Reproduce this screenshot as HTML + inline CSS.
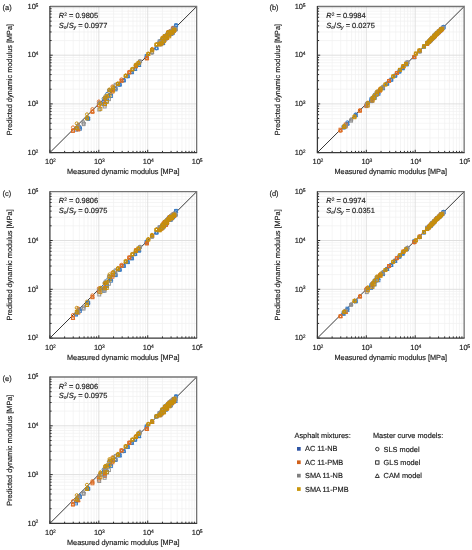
<!DOCTYPE html>
<html><head><meta charset="utf-8"><title>Figure</title><style>html,body{margin:0;padding:0;background:#fff}svg{display:block;filter:blur(0.3px)}</style></head><body>
<svg width="472" height="550" viewBox="0 0 472 550" font-family='"Liberation Sans", Arial, sans-serif' font-size="7.45" fill="#1a1a1a" stroke="#1a1a1a" stroke-width="0.16" text-rendering="geometricPrecision">
<rect width="472" height="550" fill="#fff" stroke="none"/>
<g>
<path d="M64.63 6.5V152.6M49.9 137.94H196.65M73.24 6.5V152.6M49.9 129.36H196.65M79.35 6.5V152.6M49.9 123.28H196.65M84.09 6.5V152.6M49.9 118.56H196.65M87.96 6.5V152.6M49.9 114.70H196.65M91.24 6.5V152.6M49.9 111.44H196.65M94.08 6.5V152.6M49.9 108.62H196.65M96.58 6.5V152.6M49.9 106.13H196.65M113.54 6.5V152.6M49.9 89.24H196.65M122.16 6.5V152.6M49.9 80.66H196.65M128.27 6.5V152.6M49.9 74.58H196.65M133.01 6.5V152.6M49.9 69.86H196.65M136.88 6.5V152.6M49.9 66.00H196.65M140.16 6.5V152.6M49.9 62.74H196.65M142.99 6.5V152.6M49.9 59.92H196.65M145.50 6.5V152.6M49.9 57.43H196.65M162.46 6.5V152.6M49.9 40.54H196.65M171.07 6.5V152.6M49.9 31.96H196.65M177.18 6.5V152.6M49.9 25.88H196.65M181.92 6.5V152.6M49.9 21.16H196.65M185.80 6.5V152.6M49.9 17.30H196.65M189.07 6.5V152.6M49.9 14.04H196.65M191.91 6.5V152.6M49.9 11.22H196.65M194.41 6.5V152.6M49.9 8.73H196.65" stroke="#f0f0f0" stroke-width="0.7" fill="none"/>
<path d="M98.82 6.5V152.6M49.9 103.90H196.65M147.73 6.5V152.6M49.9 55.20H196.65" stroke="#dddddd" stroke-width="0.9" fill="none"/>
<path d="M49.9 152.6L196.65 6.5" stroke="#363636" stroke-width="1.0" fill="none"/>
<g fill="none" stroke="#3B7CC4" stroke-width="0.95">
<circle cx="76.07" cy="128.12" r="1.55"/>
<circle cx="79.94" cy="127.55" r="1.55"/>
<circle cx="88.21" cy="117.78" r="1.55"/>
<circle cx="103.60" cy="98.73" r="1.55"/>
<circle cx="107.11" cy="93.87" r="1.55"/>
<circle cx="110.95" cy="90.69" r="1.55"/>
<circle cx="115.54" cy="88.04" r="1.55"/>
<circle cx="119.68" cy="84.45" r="1.55"/>
<circle cx="123.75" cy="80.24" r="1.55"/>
<circle cx="127.73" cy="76.22" r="1.55"/>
<circle cx="131.86" cy="71.64" r="1.55"/>
<circle cx="135.15" cy="68.77" r="1.55"/>
<circle cx="139.15" cy="64.81" r="1.55"/>
<circle cx="146.65" cy="56.37" r="1.55"/>
<circle cx="156.47" cy="48.31" r="1.55"/>
<circle cx="159.79" cy="41.43" r="1.55"/>
<circle cx="161.90" cy="40.08" r="1.55"/>
<circle cx="163.07" cy="43.05" r="1.55"/>
<circle cx="164.82" cy="36.42" r="1.55"/>
<circle cx="165.72" cy="38.41" r="1.55"/>
<circle cx="166.99" cy="34.86" r="1.55"/>
<circle cx="168.87" cy="33.84" r="1.55"/>
<circle cx="169.57" cy="32.83" r="1.55"/>
<circle cx="170.58" cy="33.48" r="1.55"/>
<circle cx="172.40" cy="33.32" r="1.55"/>
<circle cx="173.08" cy="31.49" r="1.55"/>
<circle cx="173.61" cy="27.95" r="1.55"/>
<circle cx="175.41" cy="28.89" r="1.55"/>
<circle cx="176.04" cy="25.20" r="1.55"/>
<rect x="74.62" y="128.17" width="2.9" height="2.9"/>
<rect x="78.49" y="127.30" width="2.9" height="2.9"/>
<rect x="86.76" y="117.46" width="2.9" height="2.9"/>
<rect x="102.15" y="102.74" width="2.9" height="2.9"/>
<rect x="105.66" y="99.33" width="2.9" height="2.9"/>
<rect x="109.50" y="94.63" width="2.9" height="2.9"/>
<rect x="114.09" y="87.97" width="2.9" height="2.9"/>
<rect x="118.23" y="83.30" width="2.9" height="2.9"/>
<rect x="122.30" y="78.90" width="2.9" height="2.9"/>
<rect x="126.28" y="74.55" width="2.9" height="2.9"/>
<rect x="130.41" y="70.77" width="2.9" height="2.9"/>
<rect x="133.70" y="67.29" width="2.9" height="2.9"/>
<rect x="137.70" y="63.57" width="2.9" height="2.9"/>
<rect x="145.20" y="54.58" width="2.9" height="2.9"/>
<rect x="155.02" y="46.80" width="2.9" height="2.9"/>
<rect x="158.34" y="40.05" width="2.9" height="2.9"/>
<rect x="160.45" y="38.93" width="2.9" height="2.9"/>
<rect x="161.62" y="41.76" width="2.9" height="2.9"/>
<rect x="163.37" y="35.00" width="2.9" height="2.9"/>
<rect x="164.27" y="36.64" width="2.9" height="2.9"/>
<rect x="165.54" y="33.66" width="2.9" height="2.9"/>
<rect x="167.42" y="32.51" width="2.9" height="2.9"/>
<rect x="168.12" y="31.36" width="2.9" height="2.9"/>
<rect x="169.13" y="32.04" width="2.9" height="2.9"/>
<rect x="170.95" y="31.45" width="2.9" height="2.9"/>
<rect x="171.63" y="30.04" width="2.9" height="2.9"/>
<rect x="172.16" y="26.39" width="2.9" height="2.9"/>
<rect x="173.96" y="27.64" width="2.9" height="2.9"/>
<rect x="174.59" y="23.93" width="2.9" height="2.9"/>
<path d="M76.07 126.27l1.8 3.2h-3.6z"/>
<path d="M79.94 125.08l1.8 3.2h-3.6z"/>
<path d="M88.21 116.10l1.8 3.2h-3.6z"/>
<path d="M103.60 100.02l1.8 3.2h-3.6z"/>
<path d="M107.11 96.46l1.8 3.2h-3.6z"/>
<path d="M110.95 91.71l1.8 3.2h-3.6z"/>
<path d="M115.54 86.62l1.8 3.2h-3.6z"/>
<path d="M119.68 82.53l1.8 3.2h-3.6z"/>
<path d="M123.75 78.63l1.8 3.2h-3.6z"/>
<path d="M127.73 74.61l1.8 3.2h-3.6z"/>
<path d="M131.86 70.43l1.8 3.2h-3.6z"/>
<path d="M135.15 67.22l1.8 3.2h-3.6z"/>
<path d="M139.15 63.08l1.8 3.2h-3.6z"/>
<path d="M146.65 54.41l1.8 3.2h-3.6z"/>
<path d="M156.47 46.14l1.8 3.2h-3.6z"/>
<path d="M159.79 39.52l1.8 3.2h-3.6z"/>
<path d="M161.90 38.22l1.8 3.2h-3.6z"/>
<path d="M163.07 41.32l1.8 3.2h-3.6z"/>
<path d="M164.82 34.56l1.8 3.2h-3.6z"/>
<path d="M165.72 36.62l1.8 3.2h-3.6z"/>
<path d="M166.99 33.58l1.8 3.2h-3.6z"/>
<path d="M168.87 31.88l1.8 3.2h-3.6z"/>
<path d="M169.57 30.71l1.8 3.2h-3.6z"/>
<path d="M170.58 32.22l1.8 3.2h-3.6z"/>
<path d="M172.40 31.55l1.8 3.2h-3.6z"/>
<path d="M173.08 29.85l1.8 3.2h-3.6z"/>
<path d="M173.61 25.97l1.8 3.2h-3.6z"/>
<path d="M175.41 27.46l1.8 3.2h-3.6z"/>
<path d="M176.04 23.73l1.8 3.2h-3.6z"/>
</g>
<g fill="none" stroke="#DD6B22" stroke-width="0.95">
<circle cx="72.95" cy="127.42" r="1.55"/>
<circle cx="78.24" cy="125.11" r="1.55"/>
<circle cx="92.44" cy="109.13" r="1.55"/>
<circle cx="98.87" cy="101.48" r="1.55"/>
<circle cx="104.83" cy="98.17" r="1.55"/>
<circle cx="112.45" cy="86.45" r="1.55"/>
<circle cx="121.51" cy="79.36" r="1.55"/>
<circle cx="129.28" cy="71.78" r="1.55"/>
<circle cx="135.92" cy="65.45" r="1.55"/>
<circle cx="146.85" cy="57.93" r="1.55"/>
<circle cx="152.23" cy="48.89" r="1.55"/>
<circle cx="159.72" cy="43.80" r="1.55"/>
<circle cx="161.19" cy="42.74" r="1.55"/>
<circle cx="162.19" cy="41.97" r="1.55"/>
<circle cx="163.61" cy="37.36" r="1.55"/>
<circle cx="164.60" cy="39.22" r="1.55"/>
<circle cx="166.12" cy="37.64" r="1.55"/>
<circle cx="167.21" cy="37.39" r="1.55"/>
<circle cx="168.36" cy="31.97" r="1.55"/>
<circle cx="169.78" cy="31.15" r="1.55"/>
<circle cx="170.18" cy="31.43" r="1.55"/>
<circle cx="171.42" cy="32.66" r="1.55"/>
<circle cx="172.83" cy="28.11" r="1.55"/>
<circle cx="173.89" cy="30.30" r="1.55"/>
<circle cx="174.51" cy="29.08" r="1.55"/>
<rect x="71.50" y="129.50" width="2.9" height="2.9"/>
<rect x="76.79" y="128.12" width="2.9" height="2.9"/>
<rect x="90.99" y="110.49" width="2.9" height="2.9"/>
<rect x="97.42" y="103.78" width="2.9" height="2.9"/>
<rect x="103.38" y="102.91" width="2.9" height="2.9"/>
<rect x="111.00" y="90.17" width="2.9" height="2.9"/>
<rect x="120.06" y="79.27" width="2.9" height="2.9"/>
<rect x="127.83" y="71.04" width="2.9" height="2.9"/>
<rect x="134.47" y="64.18" width="2.9" height="2.9"/>
<rect x="145.40" y="57.00" width="2.9" height="2.9"/>
<rect x="150.78" y="48.48" width="2.9" height="2.9"/>
<rect x="158.27" y="42.66" width="2.9" height="2.9"/>
<rect x="159.74" y="41.83" width="2.9" height="2.9"/>
<rect x="160.74" y="40.94" width="2.9" height="2.9"/>
<rect x="162.16" y="36.21" width="2.9" height="2.9"/>
<rect x="163.15" y="38.08" width="2.9" height="2.9"/>
<rect x="164.67" y="36.71" width="2.9" height="2.9"/>
<rect x="165.76" y="36.31" width="2.9" height="2.9"/>
<rect x="166.91" y="30.84" width="2.9" height="2.9"/>
<rect x="168.33" y="30.51" width="2.9" height="2.9"/>
<rect x="168.73" y="30.80" width="2.9" height="2.9"/>
<rect x="169.97" y="31.89" width="2.9" height="2.9"/>
<rect x="171.38" y="27.24" width="2.9" height="2.9"/>
<rect x="172.44" y="29.50" width="2.9" height="2.9"/>
<rect x="173.06" y="28.07" width="2.9" height="2.9"/>
<path d="M72.95 128.65l1.8 3.2h-3.6z"/>
<path d="M78.24 127.00l1.8 3.2h-3.6z"/>
<path d="M92.44 109.39l1.8 3.2h-3.6z"/>
<path d="M98.87 100.82l1.8 3.2h-3.6z"/>
<path d="M104.83 99.94l1.8 3.2h-3.6z"/>
<path d="M112.45 88.33l1.8 3.2h-3.6z"/>
<path d="M121.51 78.87l1.8 3.2h-3.6z"/>
<path d="M129.28 70.41l1.8 3.2h-3.6z"/>
<path d="M135.92 64.63l1.8 3.2h-3.6z"/>
<path d="M146.85 56.38l1.8 3.2h-3.6z"/>
<path d="M152.23 47.95l1.8 3.2h-3.6z"/>
<path d="M159.72 42.75l1.8 3.2h-3.6z"/>
<path d="M161.19 41.36l1.8 3.2h-3.6z"/>
<path d="M162.19 40.90l1.8 3.2h-3.6z"/>
<path d="M163.61 36.31l1.8 3.2h-3.6z"/>
<path d="M164.60 37.96l1.8 3.2h-3.6z"/>
<path d="M166.12 36.66l1.8 3.2h-3.6z"/>
<path d="M167.21 35.92l1.8 3.2h-3.6z"/>
<path d="M168.36 30.47l1.8 3.2h-3.6z"/>
<path d="M169.78 30.25l1.8 3.2h-3.6z"/>
<path d="M170.18 30.69l1.8 3.2h-3.6z"/>
<path d="M171.42 31.41l1.8 3.2h-3.6z"/>
<path d="M172.83 26.46l1.8 3.2h-3.6z"/>
<path d="M173.89 28.74l1.8 3.2h-3.6z"/>
<path d="M174.51 27.96l1.8 3.2h-3.6z"/>
</g>
<g fill="none" stroke="#8F8F8F" stroke-width="0.95">
<circle cx="77.96" cy="126.99" r="1.55"/>
<circle cx="83.63" cy="123.31" r="1.55"/>
<circle cx="99.28" cy="103.26" r="1.55"/>
<circle cx="104.68" cy="98.11" r="1.55"/>
<circle cx="108.92" cy="89.99" r="1.55"/>
<circle cx="115.30" cy="84.64" r="1.55"/>
<circle cx="138.64" cy="63.53" r="1.55"/>
<circle cx="139.93" cy="61.60" r="1.55"/>
<circle cx="152.10" cy="52.84" r="1.55"/>
<circle cx="159.56" cy="42.09" r="1.55"/>
<circle cx="160.82" cy="43.94" r="1.55"/>
<circle cx="162.71" cy="41.79" r="1.55"/>
<circle cx="163.61" cy="40.13" r="1.55"/>
<circle cx="165.05" cy="39.39" r="1.55"/>
<circle cx="167.08" cy="34.63" r="1.55"/>
<circle cx="167.13" cy="35.15" r="1.55"/>
<circle cx="169.45" cy="32.38" r="1.55"/>
<circle cx="170.41" cy="32.93" r="1.55"/>
<circle cx="171.16" cy="31.13" r="1.55"/>
<circle cx="172.31" cy="33.21" r="1.55"/>
<circle cx="173.75" cy="29.08" r="1.55"/>
<circle cx="175.13" cy="29.22" r="1.55"/>
<circle cx="175.54" cy="29.37" r="1.55"/>
<rect x="76.51" y="125.80" width="2.9" height="2.9"/>
<rect x="82.18" y="122.75" width="2.9" height="2.9"/>
<rect x="97.83" y="108.13" width="2.9" height="2.9"/>
<rect x="103.23" y="105.07" width="2.9" height="2.9"/>
<rect x="107.47" y="97.78" width="2.9" height="2.9"/>
<rect x="113.85" y="86.78" width="2.9" height="2.9"/>
<rect x="137.19" y="61.81" width="2.9" height="2.9"/>
<rect x="138.48" y="60.01" width="2.9" height="2.9"/>
<rect x="150.65" y="50.95" width="2.9" height="2.9"/>
<rect x="158.11" y="40.10" width="2.9" height="2.9"/>
<rect x="159.37" y="42.97" width="2.9" height="2.9"/>
<rect x="161.26" y="40.26" width="2.9" height="2.9"/>
<rect x="162.16" y="38.91" width="2.9" height="2.9"/>
<rect x="163.60" y="37.88" width="2.9" height="2.9"/>
<rect x="165.63" y="33.04" width="2.9" height="2.9"/>
<rect x="165.68" y="33.74" width="2.9" height="2.9"/>
<rect x="168.00" y="30.82" width="2.9" height="2.9"/>
<rect x="168.96" y="32.06" width="2.9" height="2.9"/>
<rect x="169.71" y="29.67" width="2.9" height="2.9"/>
<rect x="170.86" y="31.68" width="2.9" height="2.9"/>
<rect x="172.30" y="27.41" width="2.9" height="2.9"/>
<rect x="173.68" y="27.72" width="2.9" height="2.9"/>
<rect x="174.09" y="27.95" width="2.9" height="2.9"/>
<path d="M77.96 122.66l1.8 3.2h-3.6z"/>
<path d="M83.63 119.89l1.8 3.2h-3.6z"/>
<path d="M99.28 100.76l1.8 3.2h-3.6z"/>
<path d="M104.68 94.51l1.8 3.2h-3.6z"/>
<path d="M108.92 87.97l1.8 3.2h-3.6z"/>
<path d="M115.30 83.44l1.8 3.2h-3.6z"/>
<path d="M138.64 61.15l1.8 3.2h-3.6z"/>
<path d="M139.93 59.29l1.8 3.2h-3.6z"/>
<path d="M152.10 50.25l1.8 3.2h-3.6z"/>
<path d="M159.56 39.37l1.8 3.2h-3.6z"/>
<path d="M160.82 41.89l1.8 3.2h-3.6z"/>
<path d="M162.71 39.45l1.8 3.2h-3.6z"/>
<path d="M163.61 37.49l1.8 3.2h-3.6z"/>
<path d="M165.05 37.09l1.8 3.2h-3.6z"/>
<path d="M167.08 32.77l1.8 3.2h-3.6z"/>
<path d="M167.13 32.78l1.8 3.2h-3.6z"/>
<path d="M169.45 29.92l1.8 3.2h-3.6z"/>
<path d="M170.41 30.47l1.8 3.2h-3.6z"/>
<path d="M171.16 28.54l1.8 3.2h-3.6z"/>
<path d="M172.31 30.42l1.8 3.2h-3.6z"/>
<path d="M173.75 26.76l1.8 3.2h-3.6z"/>
<path d="M175.13 26.93l1.8 3.2h-3.6z"/>
<path d="M175.54 26.82l1.8 3.2h-3.6z"/>
</g>
<g fill="none" stroke="#C68E0D" stroke-width="0.95">
<circle cx="76.73" cy="123.43" r="1.55"/>
<circle cx="86.99" cy="114.35" r="1.55"/>
<circle cx="100.38" cy="103.81" r="1.55"/>
<circle cx="105.04" cy="97.65" r="1.55"/>
<circle cx="106.79" cy="95.64" r="1.55"/>
<circle cx="109.53" cy="89.45" r="1.55"/>
<circle cx="113.14" cy="87.21" r="1.55"/>
<circle cx="117.90" cy="83.47" r="1.55"/>
<circle cx="125.69" cy="75.45" r="1.55"/>
<circle cx="132.35" cy="68.87" r="1.55"/>
<circle cx="135.75" cy="64.99" r="1.55"/>
<circle cx="138.40" cy="62.92" r="1.55"/>
<circle cx="148.32" cy="53.48" r="1.55"/>
<circle cx="151.93" cy="49.74" r="1.55"/>
<circle cx="156.44" cy="44.17" r="1.55"/>
<circle cx="159.60" cy="43.61" r="1.55"/>
<circle cx="161.36" cy="43.25" r="1.55"/>
<circle cx="162.43" cy="37.83" r="1.55"/>
<circle cx="163.90" cy="40.88" r="1.55"/>
<circle cx="164.87" cy="35.83" r="1.55"/>
<circle cx="166.73" cy="37.39" r="1.55"/>
<circle cx="166.93" cy="36.99" r="1.55"/>
<circle cx="168.02" cy="32.31" r="1.55"/>
<circle cx="169.30" cy="35.12" r="1.55"/>
<circle cx="169.88" cy="32.07" r="1.55"/>
<circle cx="172.02" cy="32.24" r="1.55"/>
<circle cx="172.05" cy="32.12" r="1.55"/>
<circle cx="173.60" cy="30.00" r="1.55"/>
<circle cx="174.28" cy="29.66" r="1.55"/>
<rect x="75.28" y="126.76" width="2.9" height="2.9"/>
<rect x="85.54" y="116.97" width="2.9" height="2.9"/>
<rect x="98.93" y="107.37" width="2.9" height="2.9"/>
<rect x="103.59" y="102.62" width="2.9" height="2.9"/>
<rect x="105.34" y="100.51" width="2.9" height="2.9"/>
<rect x="108.08" y="93.89" width="2.9" height="2.9"/>
<rect x="111.69" y="89.19" width="2.9" height="2.9"/>
<rect x="116.45" y="82.57" width="2.9" height="2.9"/>
<rect x="124.24" y="74.57" width="2.9" height="2.9"/>
<rect x="130.90" y="68.11" width="2.9" height="2.9"/>
<rect x="134.30" y="64.04" width="2.9" height="2.9"/>
<rect x="136.95" y="61.87" width="2.9" height="2.9"/>
<rect x="146.87" y="52.55" width="2.9" height="2.9"/>
<rect x="150.48" y="49.09" width="2.9" height="2.9"/>
<rect x="154.99" y="43.23" width="2.9" height="2.9"/>
<rect x="158.15" y="42.78" width="2.9" height="2.9"/>
<rect x="159.91" y="42.17" width="2.9" height="2.9"/>
<rect x="160.98" y="37.13" width="2.9" height="2.9"/>
<rect x="162.45" y="39.77" width="2.9" height="2.9"/>
<rect x="163.42" y="34.68" width="2.9" height="2.9"/>
<rect x="165.28" y="35.93" width="2.9" height="2.9"/>
<rect x="165.48" y="36.47" width="2.9" height="2.9"/>
<rect x="166.57" y="31.46" width="2.9" height="2.9"/>
<rect x="167.85" y="34.90" width="2.9" height="2.9"/>
<rect x="168.43" y="31.36" width="2.9" height="2.9"/>
<rect x="170.57" y="31.11" width="2.9" height="2.9"/>
<rect x="170.60" y="31.28" width="2.9" height="2.9"/>
<rect x="172.15" y="29.34" width="2.9" height="2.9"/>
<rect x="172.83" y="28.37" width="2.9" height="2.9"/>
<path d="M76.73 126.28l1.8 3.2h-3.6z"/>
<path d="M86.99 115.85l1.8 3.2h-3.6z"/>
<path d="M100.38 101.80l1.8 3.2h-3.6z"/>
<path d="M105.04 95.92l1.8 3.2h-3.6z"/>
<path d="M106.79 94.51l1.8 3.2h-3.6z"/>
<path d="M109.53 88.53l1.8 3.2h-3.6z"/>
<path d="M113.14 85.79l1.8 3.2h-3.6z"/>
<path d="M117.90 81.68l1.8 3.2h-3.6z"/>
<path d="M125.69 73.67l1.8 3.2h-3.6z"/>
<path d="M132.35 67.30l1.8 3.2h-3.6z"/>
<path d="M135.75 62.79l1.8 3.2h-3.6z"/>
<path d="M138.40 60.39l1.8 3.2h-3.6z"/>
<path d="M148.32 52.05l1.8 3.2h-3.6z"/>
<path d="M151.93 47.51l1.8 3.2h-3.6z"/>
<path d="M156.44 42.55l1.8 3.2h-3.6z"/>
<path d="M159.60 42.03l1.8 3.2h-3.6z"/>
<path d="M161.36 41.21l1.8 3.2h-3.6z"/>
<path d="M162.43 36.20l1.8 3.2h-3.6z"/>
<path d="M163.90 38.99l1.8 3.2h-3.6z"/>
<path d="M164.87 33.99l1.8 3.2h-3.6z"/>
<path d="M166.73 35.26l1.8 3.2h-3.6z"/>
<path d="M166.93 35.35l1.8 3.2h-3.6z"/>
<path d="M168.02 30.51l1.8 3.2h-3.6z"/>
<path d="M169.30 33.20l1.8 3.2h-3.6z"/>
<path d="M169.88 30.19l1.8 3.2h-3.6z"/>
<path d="M172.02 30.30l1.8 3.2h-3.6z"/>
<path d="M172.05 29.99l1.8 3.2h-3.6z"/>
<path d="M173.60 28.73l1.8 3.2h-3.6z"/>
<path d="M174.28 27.66l1.8 3.2h-3.6z"/>
</g>
<path d="M49.9 6.5H196.65V152.6" stroke="#747474" stroke-width="1.3" fill="none"/>
<path d="M49.90 152.6v-2.8M49.9 152.60h2.8M64.63 152.6v-1.7M49.9 137.94h1.7M73.24 152.6v-1.7M49.9 129.36h1.7M79.35 152.6v-1.7M49.9 123.28h1.7M84.09 152.6v-1.7M49.9 118.56h1.7M87.96 152.6v-1.7M49.9 114.70h1.7M91.24 152.6v-1.7M49.9 111.44h1.7M94.08 152.6v-1.7M49.9 108.62h1.7M96.58 152.6v-1.7M49.9 106.13h1.7M98.82 152.6v-2.8M49.9 103.90h2.8M113.54 152.6v-1.7M49.9 89.24h1.7M122.16 152.6v-1.7M49.9 80.66h1.7M128.27 152.6v-1.7M49.9 74.58h1.7M133.01 152.6v-1.7M49.9 69.86h1.7M136.88 152.6v-1.7M49.9 66.00h1.7M140.16 152.6v-1.7M49.9 62.74h1.7M142.99 152.6v-1.7M49.9 59.92h1.7M145.50 152.6v-1.7M49.9 57.43h1.7M147.73 152.6v-2.8M49.9 55.20h2.8M162.46 152.6v-1.7M49.9 40.54h1.7M171.07 152.6v-1.7M49.9 31.96h1.7M177.18 152.6v-1.7M49.9 25.88h1.7M181.92 152.6v-1.7M49.9 21.16h1.7M185.80 152.6v-1.7M49.9 17.30h1.7M189.07 152.6v-1.7M49.9 14.04h1.7M191.91 152.6v-1.7M49.9 11.22h1.7M194.41 152.6v-1.7M49.9 8.73h1.7" stroke="#2c2c2c" stroke-width="1.0" fill="none"/>
<path d="M49.9 6.0V152.6H197.15" stroke="#383838" stroke-width="1.25" fill="none"/>
<text x="45.00" y="164.20">10<tspan dx="-0.2" dy="-2.2" font-size="5.0" stroke-width="0.14">2</tspan></text>
<text x="27.50" y="154.80">10<tspan dx="-0.2" dy="-2.2" font-size="5.0" stroke-width="0.14">2</tspan></text>
<text x="93.92" y="164.20">10<tspan dx="-0.2" dy="-2.2" font-size="5.0" stroke-width="0.14">3</tspan></text>
<text x="27.50" y="106.10">10<tspan dx="-0.2" dy="-2.2" font-size="5.0" stroke-width="0.14">3</tspan></text>
<text x="142.83" y="164.20">10<tspan dx="-0.2" dy="-2.2" font-size="5.0" stroke-width="0.14">4</tspan></text>
<text x="27.50" y="57.40">10<tspan dx="-0.2" dy="-2.2" font-size="5.0" stroke-width="0.14">4</tspan></text>
<text x="191.75" y="164.20">10<tspan dx="-0.2" dy="-2.2" font-size="5.0" stroke-width="0.14">5</tspan></text>
<text x="27.50" y="8.70">10<tspan dx="-0.2" dy="-2.2" font-size="5.0" stroke-width="0.14">5</tspan></text>
<text x="123.28" y="174.00" text-anchor="middle" textLength="112.6" lengthAdjust="spacingAndGlyphs">Measured dynamic modulus [MPa]</text>
<text transform="translate(12.20 79.55) rotate(-90)" text-anchor="middle" textLength="111.2" lengthAdjust="spacingAndGlyphs">Predicted dynamic modulus [MPa]</text>
<text x="2.60" y="10.30">(a)</text>
<text x="58.80" y="18.20"><tspan font-style="italic">R</tspan><tspan dy="-2.4" font-size="4.9" stroke-width="0.1">2</tspan><tspan dy="2.4"> = 0.9805</tspan></text>
<text x="58.80" y="27.50"><tspan font-style="italic">S</tspan><tspan dy="1.4" font-size="5" font-style="italic" stroke-width="0.1">e</tspan><tspan dy="-1.4">/</tspan><tspan font-style="italic">S</tspan><tspan dy="1.4" font-size="5" font-style="italic" stroke-width="0.1">y</tspan><tspan dy="-1.4"> = 0.0977</tspan></text>
</g>
<g>
<path d="M332.13 6.5V152.6M317.4 137.94H464.15M340.74 6.5V152.6M317.4 129.36H464.15M346.85 6.5V152.6M317.4 123.28H464.15M351.59 6.5V152.6M317.4 118.56H464.15M355.46 6.5V152.6M317.4 114.70H464.15M358.74 6.5V152.6M317.4 111.44H464.15M361.58 6.5V152.6M317.4 108.62H464.15M364.08 6.5V152.6M317.4 106.13H464.15M381.04 6.5V152.6M317.4 89.24H464.15M389.66 6.5V152.6M317.4 80.66H464.15M395.77 6.5V152.6M317.4 74.58H464.15M400.51 6.5V152.6M317.4 69.86H464.15M404.38 6.5V152.6M317.4 66.00H464.15M407.66 6.5V152.6M317.4 62.74H464.15M410.49 6.5V152.6M317.4 59.92H464.15M413.00 6.5V152.6M317.4 57.43H464.15M429.96 6.5V152.6M317.4 40.54H464.15M438.57 6.5V152.6M317.4 31.96H464.15M444.68 6.5V152.6M317.4 25.88H464.15M449.42 6.5V152.6M317.4 21.16H464.15M453.30 6.5V152.6M317.4 17.30H464.15M456.57 6.5V152.6M317.4 14.04H464.15M459.41 6.5V152.6M317.4 11.22H464.15M461.91 6.5V152.6M317.4 8.73H464.15" stroke="#f0f0f0" stroke-width="0.7" fill="none"/>
<path d="M366.32 6.5V152.6M317.4 103.90H464.15M415.23 6.5V152.6M317.4 55.20H464.15" stroke="#dddddd" stroke-width="0.9" fill="none"/>
<path d="M317.4 152.6L464.15 6.5" stroke="#363636" stroke-width="1.0" fill="none"/>
<g fill="none" stroke="#3B7CC4" stroke-width="0.95">
<circle cx="343.57" cy="126.21" r="1.55"/>
<circle cx="347.44" cy="122.25" r="1.55"/>
<circle cx="355.71" cy="114.29" r="1.55"/>
<circle cx="371.10" cy="98.52" r="1.55"/>
<circle cx="374.61" cy="94.62" r="1.55"/>
<circle cx="378.45" cy="91.06" r="1.55"/>
<circle cx="383.04" cy="87.61" r="1.55"/>
<circle cx="387.18" cy="83.32" r="1.55"/>
<circle cx="391.25" cy="79.65" r="1.55"/>
<circle cx="395.23" cy="75.50" r="1.55"/>
<circle cx="399.36" cy="71.40" r="1.55"/>
<circle cx="402.65" cy="67.94" r="1.55"/>
<circle cx="406.65" cy="64.10" r="1.55"/>
<circle cx="414.15" cy="56.97" r="1.55"/>
<circle cx="423.97" cy="46.18" r="1.55"/>
<circle cx="427.29" cy="43.01" r="1.55"/>
<circle cx="429.40" cy="40.78" r="1.55"/>
<circle cx="430.57" cy="40.02" r="1.55"/>
<circle cx="432.32" cy="37.87" r="1.55"/>
<circle cx="433.22" cy="37.41" r="1.55"/>
<circle cx="434.49" cy="35.51" r="1.55"/>
<circle cx="436.37" cy="33.47" r="1.55"/>
<circle cx="437.07" cy="33.08" r="1.55"/>
<circle cx="438.08" cy="32.58" r="1.55"/>
<circle cx="439.90" cy="30.84" r="1.55"/>
<circle cx="440.58" cy="29.96" r="1.55"/>
<circle cx="441.11" cy="29.10" r="1.55"/>
<circle cx="442.91" cy="27.87" r="1.55"/>
<circle cx="443.54" cy="26.77" r="1.55"/>
<rect x="342.12" y="126.12" width="2.9" height="2.9"/>
<rect x="345.99" y="122.34" width="2.9" height="2.9"/>
<rect x="354.26" y="113.82" width="2.9" height="2.9"/>
<rect x="369.65" y="99.75" width="2.9" height="2.9"/>
<rect x="373.16" y="96.58" width="2.9" height="2.9"/>
<rect x="377.00" y="92.41" width="2.9" height="2.9"/>
<rect x="381.59" y="86.90" width="2.9" height="2.9"/>
<rect x="385.73" y="82.26" width="2.9" height="2.9"/>
<rect x="389.80" y="78.17" width="2.9" height="2.9"/>
<rect x="393.78" y="74.26" width="2.9" height="2.9"/>
<rect x="397.91" y="70.03" width="2.9" height="2.9"/>
<rect x="401.20" y="66.85" width="2.9" height="2.9"/>
<rect x="405.20" y="62.83" width="2.9" height="2.9"/>
<rect x="412.70" y="55.85" width="2.9" height="2.9"/>
<rect x="422.52" y="45.13" width="2.9" height="2.9"/>
<rect x="425.84" y="41.73" width="2.9" height="2.9"/>
<rect x="427.95" y="39.57" width="2.9" height="2.9"/>
<rect x="429.12" y="38.78" width="2.9" height="2.9"/>
<rect x="430.87" y="36.52" width="2.9" height="2.9"/>
<rect x="431.77" y="36.11" width="2.9" height="2.9"/>
<rect x="433.04" y="34.37" width="2.9" height="2.9"/>
<rect x="434.92" y="32.23" width="2.9" height="2.9"/>
<rect x="435.62" y="31.93" width="2.9" height="2.9"/>
<rect x="436.63" y="31.34" width="2.9" height="2.9"/>
<rect x="438.45" y="29.62" width="2.9" height="2.9"/>
<rect x="439.13" y="28.75" width="2.9" height="2.9"/>
<rect x="439.66" y="28.07" width="2.9" height="2.9"/>
<rect x="441.46" y="26.53" width="2.9" height="2.9"/>
<rect x="442.09" y="25.53" width="2.9" height="2.9"/>
<path d="M343.57 125.50l1.8 3.2h-3.6z"/>
<path d="M347.44 121.72l1.8 3.2h-3.6z"/>
<path d="M355.71 113.29l1.8 3.2h-3.6z"/>
<path d="M371.10 97.98l1.8 3.2h-3.6z"/>
<path d="M374.61 94.98l1.8 3.2h-3.6z"/>
<path d="M378.45 90.84l1.8 3.2h-3.6z"/>
<path d="M383.04 85.94l1.8 3.2h-3.6z"/>
<path d="M387.18 81.86l1.8 3.2h-3.6z"/>
<path d="M391.25 77.90l1.8 3.2h-3.6z"/>
<path d="M395.23 73.78l1.8 3.2h-3.6z"/>
<path d="M399.36 69.79l1.8 3.2h-3.6z"/>
<path d="M402.65 66.41l1.8 3.2h-3.6z"/>
<path d="M406.65 62.57l1.8 3.2h-3.6z"/>
<path d="M414.15 55.40l1.8 3.2h-3.6z"/>
<path d="M423.97 44.84l1.8 3.2h-3.6z"/>
<path d="M427.29 41.31l1.8 3.2h-3.6z"/>
<path d="M429.40 39.14l1.8 3.2h-3.6z"/>
<path d="M430.57 38.46l1.8 3.2h-3.6z"/>
<path d="M432.32 36.26l1.8 3.2h-3.6z"/>
<path d="M433.22 35.64l1.8 3.2h-3.6z"/>
<path d="M434.49 33.97l1.8 3.2h-3.6z"/>
<path d="M436.37 31.99l1.8 3.2h-3.6z"/>
<path d="M437.07 31.48l1.8 3.2h-3.6z"/>
<path d="M438.08 31.04l1.8 3.2h-3.6z"/>
<path d="M439.90 29.12l1.8 3.2h-3.6z"/>
<path d="M440.58 28.55l1.8 3.2h-3.6z"/>
<path d="M441.11 27.68l1.8 3.2h-3.6z"/>
<path d="M442.91 26.20l1.8 3.2h-3.6z"/>
<path d="M443.54 25.18l1.8 3.2h-3.6z"/>
</g>
<g fill="none" stroke="#DD6B22" stroke-width="0.95">
<circle cx="340.45" cy="130.79" r="1.55"/>
<circle cx="345.74" cy="126.44" r="1.55"/>
<circle cx="359.94" cy="110.38" r="1.55"/>
<circle cx="366.37" cy="104.69" r="1.55"/>
<circle cx="372.33" cy="98.27" r="1.55"/>
<circle cx="379.95" cy="88.85" r="1.55"/>
<circle cx="389.01" cy="80.72" r="1.55"/>
<circle cx="396.78" cy="72.92" r="1.55"/>
<circle cx="403.42" cy="66.07" r="1.55"/>
<circle cx="414.35" cy="56.66" r="1.55"/>
<circle cx="419.73" cy="50.60" r="1.55"/>
<circle cx="427.22" cy="43.66" r="1.55"/>
<circle cx="428.69" cy="41.83" r="1.55"/>
<circle cx="429.69" cy="40.80" r="1.55"/>
<circle cx="431.11" cy="39.09" r="1.55"/>
<circle cx="432.10" cy="38.62" r="1.55"/>
<circle cx="433.62" cy="36.87" r="1.55"/>
<circle cx="434.71" cy="36.01" r="1.55"/>
<circle cx="435.86" cy="34.63" r="1.55"/>
<circle cx="437.28" cy="33.07" r="1.55"/>
<circle cx="437.68" cy="32.53" r="1.55"/>
<circle cx="438.92" cy="31.65" r="1.55"/>
<circle cx="440.33" cy="29.93" r="1.55"/>
<circle cx="441.39" cy="29.34" r="1.55"/>
<circle cx="442.01" cy="28.52" r="1.55"/>
<rect x="339.00" y="128.20" width="2.9" height="2.9"/>
<rect x="344.29" y="123.03" width="2.9" height="2.9"/>
<rect x="358.49" y="109.28" width="2.9" height="2.9"/>
<rect x="364.92" y="104.68" width="2.9" height="2.9"/>
<rect x="370.88" y="99.30" width="2.9" height="2.9"/>
<rect x="378.50" y="89.29" width="2.9" height="2.9"/>
<rect x="387.56" y="79.48" width="2.9" height="2.9"/>
<rect x="395.33" y="71.64" width="2.9" height="2.9"/>
<rect x="401.97" y="64.90" width="2.9" height="2.9"/>
<rect x="412.90" y="55.52" width="2.9" height="2.9"/>
<rect x="418.28" y="49.42" width="2.9" height="2.9"/>
<rect x="425.77" y="42.29" width="2.9" height="2.9"/>
<rect x="427.24" y="40.49" width="2.9" height="2.9"/>
<rect x="428.24" y="39.76" width="2.9" height="2.9"/>
<rect x="429.66" y="37.90" width="2.9" height="2.9"/>
<rect x="430.65" y="37.14" width="2.9" height="2.9"/>
<rect x="432.17" y="35.83" width="2.9" height="2.9"/>
<rect x="433.26" y="34.80" width="2.9" height="2.9"/>
<rect x="434.41" y="33.27" width="2.9" height="2.9"/>
<rect x="435.83" y="31.94" width="2.9" height="2.9"/>
<rect x="436.23" y="31.35" width="2.9" height="2.9"/>
<rect x="437.47" y="30.65" width="2.9" height="2.9"/>
<rect x="438.88" y="28.84" width="2.9" height="2.9"/>
<rect x="439.94" y="28.18" width="2.9" height="2.9"/>
<rect x="440.56" y="27.35" width="2.9" height="2.9"/>
<path d="M340.45 128.72l1.8 3.2h-3.6z"/>
<path d="M345.74 124.02l1.8 3.2h-3.6z"/>
<path d="M359.94 108.66l1.8 3.2h-3.6z"/>
<path d="M366.37 103.19l1.8 3.2h-3.6z"/>
<path d="M372.33 97.65l1.8 3.2h-3.6z"/>
<path d="M379.95 88.32l1.8 3.2h-3.6z"/>
<path d="M389.01 79.07l1.8 3.2h-3.6z"/>
<path d="M396.78 71.32l1.8 3.2h-3.6z"/>
<path d="M403.42 64.71l1.8 3.2h-3.6z"/>
<path d="M414.35 55.16l1.8 3.2h-3.6z"/>
<path d="M419.73 49.05l1.8 3.2h-3.6z"/>
<path d="M427.22 41.97l1.8 3.2h-3.6z"/>
<path d="M428.69 40.24l1.8 3.2h-3.6z"/>
<path d="M429.69 39.22l1.8 3.2h-3.6z"/>
<path d="M431.11 37.48l1.8 3.2h-3.6z"/>
<path d="M432.10 36.81l1.8 3.2h-3.6z"/>
<path d="M433.62 35.35l1.8 3.2h-3.6z"/>
<path d="M434.71 34.34l1.8 3.2h-3.6z"/>
<path d="M435.86 32.93l1.8 3.2h-3.6z"/>
<path d="M437.28 31.55l1.8 3.2h-3.6z"/>
<path d="M437.68 30.93l1.8 3.2h-3.6z"/>
<path d="M438.92 30.25l1.8 3.2h-3.6z"/>
<path d="M440.33 28.32l1.8 3.2h-3.6z"/>
<path d="M441.39 27.97l1.8 3.2h-3.6z"/>
<path d="M442.01 27.02l1.8 3.2h-3.6z"/>
</g>
<g fill="none" stroke="#8F8F8F" stroke-width="0.95">
<circle cx="345.46" cy="125.48" r="1.55"/>
<circle cx="351.13" cy="119.47" r="1.55"/>
<circle cx="366.78" cy="103.19" r="1.55"/>
<circle cx="372.18" cy="98.19" r="1.55"/>
<circle cx="376.42" cy="92.14" r="1.55"/>
<circle cx="382.80" cy="86.56" r="1.55"/>
<circle cx="406.14" cy="63.56" r="1.55"/>
<circle cx="407.43" cy="62.42" r="1.55"/>
<circle cx="419.60" cy="51.54" r="1.55"/>
<circle cx="427.06" cy="43.02" r="1.55"/>
<circle cx="428.32" cy="42.16" r="1.55"/>
<circle cx="430.21" cy="40.37" r="1.55"/>
<circle cx="431.11" cy="39.42" r="1.55"/>
<circle cx="432.55" cy="38.15" r="1.55"/>
<circle cx="434.58" cy="35.40" r="1.55"/>
<circle cx="434.63" cy="35.52" r="1.55"/>
<circle cx="436.95" cy="33.41" r="1.55"/>
<circle cx="437.91" cy="32.76" r="1.55"/>
<circle cx="438.66" cy="31.30" r="1.55"/>
<circle cx="439.81" cy="31.02" r="1.55"/>
<circle cx="441.25" cy="28.82" r="1.55"/>
<circle cx="442.63" cy="27.96" r="1.55"/>
<circle cx="443.04" cy="27.78" r="1.55"/>
<rect x="344.01" y="125.32" width="2.9" height="2.9"/>
<rect x="349.68" y="119.25" width="2.9" height="2.9"/>
<rect x="365.33" y="103.95" width="2.9" height="2.9"/>
<rect x="370.73" y="99.22" width="2.9" height="2.9"/>
<rect x="374.97" y="93.63" width="2.9" height="2.9"/>
<rect x="381.35" y="86.12" width="2.9" height="2.9"/>
<rect x="404.69" y="62.02" width="2.9" height="2.9"/>
<rect x="405.98" y="60.81" width="2.9" height="2.9"/>
<rect x="418.15" y="49.96" width="2.9" height="2.9"/>
<rect x="425.61" y="41.40" width="2.9" height="2.9"/>
<rect x="426.87" y="40.76" width="2.9" height="2.9"/>
<rect x="428.76" y="39.10" width="2.9" height="2.9"/>
<rect x="429.66" y="37.75" width="2.9" height="2.9"/>
<rect x="431.10" y="36.81" width="2.9" height="2.9"/>
<rect x="433.13" y="34.09" width="2.9" height="2.9"/>
<rect x="433.18" y="33.92" width="2.9" height="2.9"/>
<rect x="435.50" y="32.04" width="2.9" height="2.9"/>
<rect x="436.46" y="31.22" width="2.9" height="2.9"/>
<rect x="437.21" y="29.85" width="2.9" height="2.9"/>
<rect x="438.36" y="29.63" width="2.9" height="2.9"/>
<rect x="439.80" y="27.50" width="2.9" height="2.9"/>
<rect x="441.18" y="26.60" width="2.9" height="2.9"/>
<rect x="441.59" y="26.43" width="2.9" height="2.9"/>
<path d="M345.46 123.88l1.8 3.2h-3.6z"/>
<path d="M351.13 117.72l1.8 3.2h-3.6z"/>
<path d="M366.78 101.17l1.8 3.2h-3.6z"/>
<path d="M372.18 95.99l1.8 3.2h-3.6z"/>
<path d="M376.42 91.17l1.8 3.2h-3.6z"/>
<path d="M382.80 85.12l1.8 3.2h-3.6z"/>
<path d="M406.14 61.72l1.8 3.2h-3.6z"/>
<path d="M407.43 60.55l1.8 3.2h-3.6z"/>
<path d="M419.60 49.78l1.8 3.2h-3.6z"/>
<path d="M427.06 41.00l1.8 3.2h-3.6z"/>
<path d="M428.32 40.53l1.8 3.2h-3.6z"/>
<path d="M430.21 38.78l1.8 3.2h-3.6z"/>
<path d="M431.11 37.43l1.8 3.2h-3.6z"/>
<path d="M432.55 36.30l1.8 3.2h-3.6z"/>
<path d="M434.58 33.66l1.8 3.2h-3.6z"/>
<path d="M434.63 33.77l1.8 3.2h-3.6z"/>
<path d="M436.95 31.73l1.8 3.2h-3.6z"/>
<path d="M437.91 30.95l1.8 3.2h-3.6z"/>
<path d="M438.66 29.44l1.8 3.2h-3.6z"/>
<path d="M439.81 29.12l1.8 3.2h-3.6z"/>
<path d="M441.25 27.07l1.8 3.2h-3.6z"/>
<path d="M442.63 26.31l1.8 3.2h-3.6z"/>
<path d="M443.04 25.93l1.8 3.2h-3.6z"/>
</g>
<g fill="none" stroke="#C68E0D" stroke-width="0.95">
<circle cx="344.23" cy="125.66" r="1.55"/>
<circle cx="354.49" cy="116.14" r="1.55"/>
<circle cx="367.88" cy="102.76" r="1.55"/>
<circle cx="372.54" cy="97.58" r="1.55"/>
<circle cx="374.29" cy="95.52" r="1.55"/>
<circle cx="377.03" cy="91.42" r="1.55"/>
<circle cx="380.64" cy="88.21" r="1.55"/>
<circle cx="385.40" cy="84.27" r="1.55"/>
<circle cx="393.19" cy="76.39" r="1.55"/>
<circle cx="399.85" cy="69.88" r="1.55"/>
<circle cx="403.25" cy="66.45" r="1.55"/>
<circle cx="405.90" cy="64.10" r="1.55"/>
<circle cx="415.82" cy="53.63" r="1.55"/>
<circle cx="419.43" cy="50.28" r="1.55"/>
<circle cx="423.94" cy="46.34" r="1.55"/>
<circle cx="427.10" cy="43.39" r="1.55"/>
<circle cx="428.86" cy="41.75" r="1.55"/>
<circle cx="429.93" cy="40.39" r="1.55"/>
<circle cx="431.40" cy="39.14" r="1.55"/>
<circle cx="432.37" cy="37.77" r="1.55"/>
<circle cx="434.23" cy="36.33" r="1.55"/>
<circle cx="434.43" cy="36.37" r="1.55"/>
<circle cx="435.52" cy="34.65" r="1.55"/>
<circle cx="436.80" cy="33.95" r="1.55"/>
<circle cx="437.38" cy="32.69" r="1.55"/>
<circle cx="439.52" cy="31.04" r="1.55"/>
<circle cx="439.55" cy="30.91" r="1.55"/>
<circle cx="441.10" cy="29.36" r="1.55"/>
<circle cx="441.78" cy="29.16" r="1.55"/>
<rect x="342.78" y="125.53" width="2.9" height="2.9"/>
<rect x="353.04" y="115.83" width="2.9" height="2.9"/>
<rect x="366.43" y="104.13" width="2.9" height="2.9"/>
<rect x="371.09" y="98.95" width="2.9" height="2.9"/>
<rect x="372.84" y="96.74" width="2.9" height="2.9"/>
<rect x="375.58" y="92.81" width="2.9" height="2.9"/>
<rect x="379.19" y="88.29" width="2.9" height="2.9"/>
<rect x="383.95" y="83.07" width="2.9" height="2.9"/>
<rect x="391.74" y="74.88" width="2.9" height="2.9"/>
<rect x="398.40" y="68.33" width="2.9" height="2.9"/>
<rect x="401.80" y="64.77" width="2.9" height="2.9"/>
<rect x="404.45" y="62.47" width="2.9" height="2.9"/>
<rect x="414.37" y="52.03" width="2.9" height="2.9"/>
<rect x="417.98" y="48.98" width="2.9" height="2.9"/>
<rect x="422.49" y="44.85" width="2.9" height="2.9"/>
<rect x="425.65" y="41.82" width="2.9" height="2.9"/>
<rect x="427.41" y="40.21" width="2.9" height="2.9"/>
<rect x="428.48" y="38.89" width="2.9" height="2.9"/>
<rect x="429.95" y="37.76" width="2.9" height="2.9"/>
<rect x="430.92" y="36.31" width="2.9" height="2.9"/>
<rect x="432.78" y="34.95" width="2.9" height="2.9"/>
<rect x="432.98" y="34.72" width="2.9" height="2.9"/>
<rect x="434.07" y="33.12" width="2.9" height="2.9"/>
<rect x="435.35" y="32.30" width="2.9" height="2.9"/>
<rect x="435.93" y="31.35" width="2.9" height="2.9"/>
<rect x="438.07" y="29.56" width="2.9" height="2.9"/>
<rect x="438.10" y="29.53" width="2.9" height="2.9"/>
<rect x="439.65" y="27.95" width="2.9" height="2.9"/>
<rect x="440.33" y="27.48" width="2.9" height="2.9"/>
<path d="M344.23 124.43l1.8 3.2h-3.6z"/>
<path d="M354.49 114.72l1.8 3.2h-3.6z"/>
<path d="M367.88 100.88l1.8 3.2h-3.6z"/>
<path d="M372.54 95.34l1.8 3.2h-3.6z"/>
<path d="M374.29 93.60l1.8 3.2h-3.6z"/>
<path d="M377.03 90.36l1.8 3.2h-3.6z"/>
<path d="M380.64 86.85l1.8 3.2h-3.6z"/>
<path d="M385.40 82.59l1.8 3.2h-3.6z"/>
<path d="M393.19 74.69l1.8 3.2h-3.6z"/>
<path d="M399.85 68.13l1.8 3.2h-3.6z"/>
<path d="M403.25 64.47l1.8 3.2h-3.6z"/>
<path d="M405.90 62.25l1.8 3.2h-3.6z"/>
<path d="M415.82 51.92l1.8 3.2h-3.6z"/>
<path d="M419.43 48.66l1.8 3.2h-3.6z"/>
<path d="M423.94 44.59l1.8 3.2h-3.6z"/>
<path d="M427.10 41.65l1.8 3.2h-3.6z"/>
<path d="M428.86 40.10l1.8 3.2h-3.6z"/>
<path d="M429.93 38.49l1.8 3.2h-3.6z"/>
<path d="M431.40 37.40l1.8 3.2h-3.6z"/>
<path d="M432.37 36.00l1.8 3.2h-3.6z"/>
<path d="M434.23 34.55l1.8 3.2h-3.6z"/>
<path d="M434.43 34.43l1.8 3.2h-3.6z"/>
<path d="M435.52 32.82l1.8 3.2h-3.6z"/>
<path d="M436.80 32.14l1.8 3.2h-3.6z"/>
<path d="M437.38 30.87l1.8 3.2h-3.6z"/>
<path d="M439.52 29.38l1.8 3.2h-3.6z"/>
<path d="M439.55 29.08l1.8 3.2h-3.6z"/>
<path d="M441.10 27.64l1.8 3.2h-3.6z"/>
<path d="M441.78 27.16l1.8 3.2h-3.6z"/>
</g>
<path d="M317.4 6.5H464.15V152.6" stroke="#747474" stroke-width="1.3" fill="none"/>
<path d="M317.40 152.6v-2.8M317.4 152.60h2.8M332.13 152.6v-1.7M317.4 137.94h1.7M340.74 152.6v-1.7M317.4 129.36h1.7M346.85 152.6v-1.7M317.4 123.28h1.7M351.59 152.6v-1.7M317.4 118.56h1.7M355.46 152.6v-1.7M317.4 114.70h1.7M358.74 152.6v-1.7M317.4 111.44h1.7M361.58 152.6v-1.7M317.4 108.62h1.7M364.08 152.6v-1.7M317.4 106.13h1.7M366.32 152.6v-2.8M317.4 103.90h2.8M381.04 152.6v-1.7M317.4 89.24h1.7M389.66 152.6v-1.7M317.4 80.66h1.7M395.77 152.6v-1.7M317.4 74.58h1.7M400.51 152.6v-1.7M317.4 69.86h1.7M404.38 152.6v-1.7M317.4 66.00h1.7M407.66 152.6v-1.7M317.4 62.74h1.7M410.49 152.6v-1.7M317.4 59.92h1.7M413.00 152.6v-1.7M317.4 57.43h1.7M415.23 152.6v-2.8M317.4 55.20h2.8M429.96 152.6v-1.7M317.4 40.54h1.7M438.57 152.6v-1.7M317.4 31.96h1.7M444.68 152.6v-1.7M317.4 25.88h1.7M449.42 152.6v-1.7M317.4 21.16h1.7M453.30 152.6v-1.7M317.4 17.30h1.7M456.57 152.6v-1.7M317.4 14.04h1.7M459.41 152.6v-1.7M317.4 11.22h1.7M461.91 152.6v-1.7M317.4 8.73h1.7" stroke="#2c2c2c" stroke-width="1.0" fill="none"/>
<path d="M317.4 6.0V152.6H464.65" stroke="#383838" stroke-width="1.25" fill="none"/>
<text x="312.50" y="164.20">10<tspan dx="-0.2" dy="-2.2" font-size="5.0" stroke-width="0.14">2</tspan></text>
<text x="294.70" y="154.80">10<tspan dx="-0.2" dy="-2.2" font-size="5.0" stroke-width="0.14">2</tspan></text>
<text x="361.42" y="164.20">10<tspan dx="-0.2" dy="-2.2" font-size="5.0" stroke-width="0.14">3</tspan></text>
<text x="294.70" y="106.10">10<tspan dx="-0.2" dy="-2.2" font-size="5.0" stroke-width="0.14">3</tspan></text>
<text x="410.33" y="164.20">10<tspan dx="-0.2" dy="-2.2" font-size="5.0" stroke-width="0.14">4</tspan></text>
<text x="294.70" y="57.40">10<tspan dx="-0.2" dy="-2.2" font-size="5.0" stroke-width="0.14">4</tspan></text>
<text x="459.25" y="164.20">10<tspan dx="-0.2" dy="-2.2" font-size="5.0" stroke-width="0.14">5</tspan></text>
<text x="294.70" y="8.70">10<tspan dx="-0.2" dy="-2.2" font-size="5.0" stroke-width="0.14">5</tspan></text>
<text x="390.77" y="174.00" text-anchor="middle" textLength="112.6" lengthAdjust="spacingAndGlyphs">Measured dynamic modulus [MPa]</text>
<text transform="translate(279.60 79.55) rotate(-90)" text-anchor="middle" textLength="111.2" lengthAdjust="spacingAndGlyphs">Predicted dynamic modulus [MPa]</text>
<text x="269.50" y="10.30">(b)</text>
<text x="326.30" y="18.20"><tspan font-style="italic">R</tspan><tspan dy="-2.4" font-size="4.9" stroke-width="0.1">2</tspan><tspan dy="2.4"> = 0.9984</tspan></text>
<text x="326.30" y="27.50"><tspan font-style="italic">S</tspan><tspan dy="1.4" font-size="5" font-style="italic" stroke-width="0.1">e</tspan><tspan dy="-1.4">/</tspan><tspan font-style="italic">S</tspan><tspan dy="1.4" font-size="5" font-style="italic" stroke-width="0.1">y</tspan><tspan dy="-1.4"> = 0.0275</tspan></text>
</g>
<g>
<path d="M64.63 191.7V338.1M49.9 323.41H196.65M73.24 191.7V338.1M49.9 314.82H196.65M79.35 191.7V338.1M49.9 308.72H196.65M84.09 191.7V338.1M49.9 303.99H196.65M87.96 191.7V338.1M49.9 300.13H196.65M91.24 191.7V338.1M49.9 296.86H196.65M94.08 191.7V338.1M49.9 294.03H196.65M96.58 191.7V338.1M49.9 291.53H196.65M113.54 191.7V338.1M49.9 274.61H196.65M122.16 191.7V338.1M49.9 266.02H196.65M128.27 191.7V338.1M49.9 259.92H196.65M133.01 191.7V338.1M49.9 255.19H196.65M136.88 191.7V338.1M49.9 251.33H196.65M140.16 191.7V338.1M49.9 248.06H196.65M142.99 191.7V338.1M49.9 245.23H196.65M145.50 191.7V338.1M49.9 242.73H196.65M162.46 191.7V338.1M49.9 225.81H196.65M171.07 191.7V338.1M49.9 217.22H196.65M177.18 191.7V338.1M49.9 211.12H196.65M181.92 191.7V338.1M49.9 206.39H196.65M185.80 191.7V338.1M49.9 202.53H196.65M189.07 191.7V338.1M49.9 199.26H196.65M191.91 191.7V338.1M49.9 196.43H196.65M194.41 191.7V338.1M49.9 193.93H196.65" stroke="#f0f0f0" stroke-width="0.7" fill="none"/>
<path d="M98.82 191.7V338.1M49.9 289.30H196.65M147.73 191.7V338.1M49.9 240.50H196.65" stroke="#dddddd" stroke-width="0.9" fill="none"/>
<path d="M49.9 338.1L196.65 191.7" stroke="#363636" stroke-width="1.0" fill="none"/>
<g fill="none" stroke="#3B7CC4" stroke-width="0.95">
<circle cx="76.07" cy="313.82" r="1.55"/>
<circle cx="79.94" cy="309.46" r="1.55"/>
<circle cx="88.21" cy="301.96" r="1.55"/>
<circle cx="103.60" cy="286.56" r="1.55"/>
<circle cx="107.11" cy="280.26" r="1.55"/>
<circle cx="110.95" cy="276.50" r="1.55"/>
<circle cx="115.54" cy="274.38" r="1.55"/>
<circle cx="119.68" cy="269.63" r="1.55"/>
<circle cx="123.75" cy="265.76" r="1.55"/>
<circle cx="127.73" cy="261.61" r="1.55"/>
<circle cx="131.86" cy="257.64" r="1.55"/>
<circle cx="135.15" cy="254.21" r="1.55"/>
<circle cx="139.15" cy="250.27" r="1.55"/>
<circle cx="146.65" cy="241.30" r="1.55"/>
<circle cx="156.47" cy="232.62" r="1.55"/>
<circle cx="159.79" cy="227.48" r="1.55"/>
<circle cx="161.90" cy="225.53" r="1.55"/>
<circle cx="163.07" cy="226.70" r="1.55"/>
<circle cx="164.82" cy="222.09" r="1.55"/>
<circle cx="165.72" cy="224.14" r="1.55"/>
<circle cx="166.99" cy="220.36" r="1.55"/>
<circle cx="168.87" cy="217.98" r="1.55"/>
<circle cx="169.57" cy="217.11" r="1.55"/>
<circle cx="170.58" cy="219.68" r="1.55"/>
<circle cx="172.40" cy="217.67" r="1.55"/>
<circle cx="173.08" cy="217.25" r="1.55"/>
<circle cx="173.61" cy="215.01" r="1.55"/>
<circle cx="175.41" cy="214.56" r="1.55"/>
<circle cx="176.04" cy="210.83" r="1.55"/>
<rect x="74.62" y="313.22" width="2.9" height="2.9"/>
<rect x="78.49" y="309.47" width="2.9" height="2.9"/>
<rect x="86.76" y="301.83" width="2.9" height="2.9"/>
<rect x="102.15" y="289.35" width="2.9" height="2.9"/>
<rect x="105.66" y="284.68" width="2.9" height="2.9"/>
<rect x="109.50" y="279.29" width="2.9" height="2.9"/>
<rect x="114.09" y="273.76" width="2.9" height="2.9"/>
<rect x="118.23" y="268.40" width="2.9" height="2.9"/>
<rect x="122.30" y="264.40" width="2.9" height="2.9"/>
<rect x="126.28" y="260.74" width="2.9" height="2.9"/>
<rect x="130.41" y="257.03" width="2.9" height="2.9"/>
<rect x="133.70" y="252.17" width="2.9" height="2.9"/>
<rect x="137.70" y="249.16" width="2.9" height="2.9"/>
<rect x="145.20" y="240.67" width="2.9" height="2.9"/>
<rect x="155.02" y="231.02" width="2.9" height="2.9"/>
<rect x="158.34" y="226.03" width="2.9" height="2.9"/>
<rect x="160.45" y="224.84" width="2.9" height="2.9"/>
<rect x="161.62" y="225.36" width="2.9" height="2.9"/>
<rect x="163.37" y="220.62" width="2.9" height="2.9"/>
<rect x="164.27" y="222.99" width="2.9" height="2.9"/>
<rect x="165.54" y="218.96" width="2.9" height="2.9"/>
<rect x="167.42" y="216.72" width="2.9" height="2.9"/>
<rect x="168.12" y="215.92" width="2.9" height="2.9"/>
<rect x="169.13" y="218.10" width="2.9" height="2.9"/>
<rect x="170.95" y="216.23" width="2.9" height="2.9"/>
<rect x="171.63" y="215.43" width="2.9" height="2.9"/>
<rect x="172.16" y="213.35" width="2.9" height="2.9"/>
<rect x="173.96" y="213.42" width="2.9" height="2.9"/>
<rect x="174.59" y="209.43" width="2.9" height="2.9"/>
<path d="M76.07 311.63l1.8 3.2h-3.6z"/>
<path d="M79.94 307.24l1.8 3.2h-3.6z"/>
<path d="M88.21 300.17l1.8 3.2h-3.6z"/>
<path d="M103.60 286.67l1.8 3.2h-3.6z"/>
<path d="M107.11 282.06l1.8 3.2h-3.6z"/>
<path d="M110.95 277.36l1.8 3.2h-3.6z"/>
<path d="M115.54 273.01l1.8 3.2h-3.6z"/>
<path d="M119.68 267.67l1.8 3.2h-3.6z"/>
<path d="M123.75 264.04l1.8 3.2h-3.6z"/>
<path d="M127.73 260.23l1.8 3.2h-3.6z"/>
<path d="M131.86 256.26l1.8 3.2h-3.6z"/>
<path d="M135.15 252.16l1.8 3.2h-3.6z"/>
<path d="M139.15 248.61l1.8 3.2h-3.6z"/>
<path d="M146.65 239.56l1.8 3.2h-3.6z"/>
<path d="M156.47 230.82l1.8 3.2h-3.6z"/>
<path d="M159.79 225.67l1.8 3.2h-3.6z"/>
<path d="M161.90 224.82l1.8 3.2h-3.6z"/>
<path d="M163.07 225.00l1.8 3.2h-3.6z"/>
<path d="M164.82 219.83l1.8 3.2h-3.6z"/>
<path d="M165.72 222.90l1.8 3.2h-3.6z"/>
<path d="M166.99 218.65l1.8 3.2h-3.6z"/>
<path d="M168.87 215.96l1.8 3.2h-3.6z"/>
<path d="M169.57 215.57l1.8 3.2h-3.6z"/>
<path d="M170.58 217.98l1.8 3.2h-3.6z"/>
<path d="M172.40 215.80l1.8 3.2h-3.6z"/>
<path d="M173.08 215.14l1.8 3.2h-3.6z"/>
<path d="M173.61 213.35l1.8 3.2h-3.6z"/>
<path d="M175.41 212.70l1.8 3.2h-3.6z"/>
<path d="M176.04 209.32l1.8 3.2h-3.6z"/>
</g>
<g fill="none" stroke="#DD6B22" stroke-width="0.95">
<circle cx="72.95" cy="315.04" r="1.55"/>
<circle cx="78.24" cy="308.51" r="1.55"/>
<circle cx="92.44" cy="295.35" r="1.55"/>
<circle cx="98.87" cy="288.37" r="1.55"/>
<circle cx="104.83" cy="283.43" r="1.55"/>
<circle cx="112.45" cy="272.45" r="1.55"/>
<circle cx="121.51" cy="264.83" r="1.55"/>
<circle cx="129.28" cy="257.30" r="1.55"/>
<circle cx="135.92" cy="250.12" r="1.55"/>
<circle cx="146.85" cy="242.67" r="1.55"/>
<circle cx="152.23" cy="235.35" r="1.55"/>
<circle cx="159.72" cy="228.97" r="1.55"/>
<circle cx="161.19" cy="227.99" r="1.55"/>
<circle cx="162.19" cy="227.33" r="1.55"/>
<circle cx="163.61" cy="222.81" r="1.55"/>
<circle cx="164.60" cy="224.07" r="1.55"/>
<circle cx="166.12" cy="223.98" r="1.55"/>
<circle cx="167.21" cy="222.05" r="1.55"/>
<circle cx="168.36" cy="218.42" r="1.55"/>
<circle cx="169.78" cy="216.91" r="1.55"/>
<circle cx="170.18" cy="216.62" r="1.55"/>
<circle cx="171.42" cy="217.28" r="1.55"/>
<circle cx="172.83" cy="214.01" r="1.55"/>
<circle cx="173.89" cy="215.54" r="1.55"/>
<circle cx="174.51" cy="215.01" r="1.55"/>
<rect x="71.50" y="316.53" width="2.9" height="2.9"/>
<rect x="76.79" y="311.18" width="2.9" height="2.9"/>
<rect x="90.99" y="295.82" width="2.9" height="2.9"/>
<rect x="97.42" y="290.18" width="2.9" height="2.9"/>
<rect x="103.38" y="286.83" width="2.9" height="2.9"/>
<rect x="111.00" y="275.33" width="2.9" height="2.9"/>
<rect x="120.06" y="264.25" width="2.9" height="2.9"/>
<rect x="127.83" y="256.16" width="2.9" height="2.9"/>
<rect x="134.47" y="248.83" width="2.9" height="2.9"/>
<rect x="145.40" y="241.86" width="2.9" height="2.9"/>
<rect x="150.78" y="234.22" width="2.9" height="2.9"/>
<rect x="158.27" y="228.03" width="2.9" height="2.9"/>
<rect x="159.74" y="226.81" width="2.9" height="2.9"/>
<rect x="160.74" y="226.80" width="2.9" height="2.9"/>
<rect x="162.16" y="222.19" width="2.9" height="2.9"/>
<rect x="163.15" y="223.17" width="2.9" height="2.9"/>
<rect x="164.67" y="223.22" width="2.9" height="2.9"/>
<rect x="165.76" y="221.03" width="2.9" height="2.9"/>
<rect x="166.91" y="217.78" width="2.9" height="2.9"/>
<rect x="168.33" y="215.77" width="2.9" height="2.9"/>
<rect x="168.73" y="215.64" width="2.9" height="2.9"/>
<rect x="169.97" y="216.83" width="2.9" height="2.9"/>
<rect x="171.38" y="213.44" width="2.9" height="2.9"/>
<rect x="172.44" y="214.56" width="2.9" height="2.9"/>
<rect x="173.06" y="213.83" width="2.9" height="2.9"/>
<path d="M72.95 316.02l1.8 3.2h-3.6z"/>
<path d="M78.24 310.30l1.8 3.2h-3.6z"/>
<path d="M92.44 294.89l1.8 3.2h-3.6z"/>
<path d="M98.87 287.72l1.8 3.2h-3.6z"/>
<path d="M104.83 285.08l1.8 3.2h-3.6z"/>
<path d="M112.45 273.35l1.8 3.2h-3.6z"/>
<path d="M121.51 263.87l1.8 3.2h-3.6z"/>
<path d="M129.28 255.80l1.8 3.2h-3.6z"/>
<path d="M135.92 249.29l1.8 3.2h-3.6z"/>
<path d="M146.85 241.69l1.8 3.2h-3.6z"/>
<path d="M152.23 233.95l1.8 3.2h-3.6z"/>
<path d="M159.72 227.88l1.8 3.2h-3.6z"/>
<path d="M161.19 226.88l1.8 3.2h-3.6z"/>
<path d="M162.19 225.98l1.8 3.2h-3.6z"/>
<path d="M163.61 221.92l1.8 3.2h-3.6z"/>
<path d="M164.60 222.71l1.8 3.2h-3.6z"/>
<path d="M166.12 222.69l1.8 3.2h-3.6z"/>
<path d="M167.21 220.67l1.8 3.2h-3.6z"/>
<path d="M168.36 217.44l1.8 3.2h-3.6z"/>
<path d="M169.78 215.85l1.8 3.2h-3.6z"/>
<path d="M170.18 215.35l1.8 3.2h-3.6z"/>
<path d="M171.42 216.22l1.8 3.2h-3.6z"/>
<path d="M172.83 212.70l1.8 3.2h-3.6z"/>
<path d="M173.89 214.19l1.8 3.2h-3.6z"/>
<path d="M174.51 213.53l1.8 3.2h-3.6z"/>
</g>
<g fill="none" stroke="#8F8F8F" stroke-width="0.95">
<circle cx="77.96" cy="311.67" r="1.55"/>
<circle cx="83.63" cy="307.67" r="1.55"/>
<circle cx="99.28" cy="289.43" r="1.55"/>
<circle cx="104.68" cy="283.30" r="1.55"/>
<circle cx="108.92" cy="276.18" r="1.55"/>
<circle cx="115.30" cy="270.12" r="1.55"/>
<circle cx="138.64" cy="248.94" r="1.55"/>
<circle cx="139.93" cy="247.14" r="1.55"/>
<circle cx="152.10" cy="236.72" r="1.55"/>
<circle cx="159.56" cy="227.35" r="1.55"/>
<circle cx="160.82" cy="228.33" r="1.55"/>
<circle cx="162.71" cy="227.72" r="1.55"/>
<circle cx="163.61" cy="225.64" r="1.55"/>
<circle cx="165.05" cy="224.37" r="1.55"/>
<circle cx="167.08" cy="220.50" r="1.55"/>
<circle cx="167.13" cy="219.71" r="1.55"/>
<circle cx="169.45" cy="218.54" r="1.55"/>
<circle cx="170.41" cy="219.20" r="1.55"/>
<circle cx="171.16" cy="215.76" r="1.55"/>
<circle cx="172.31" cy="217.00" r="1.55"/>
<circle cx="173.75" cy="214.55" r="1.55"/>
<circle cx="175.13" cy="214.24" r="1.55"/>
<circle cx="175.54" cy="214.76" r="1.55"/>
<rect x="76.51" y="310.98" width="2.9" height="2.9"/>
<rect x="82.18" y="307.18" width="2.9" height="2.9"/>
<rect x="97.83" y="293.07" width="2.9" height="2.9"/>
<rect x="103.23" y="289.24" width="2.9" height="2.9"/>
<rect x="107.47" y="282.35" width="2.9" height="2.9"/>
<rect x="113.85" y="272.13" width="2.9" height="2.9"/>
<rect x="137.19" y="247.71" width="2.9" height="2.9"/>
<rect x="138.48" y="245.69" width="2.9" height="2.9"/>
<rect x="150.65" y="235.23" width="2.9" height="2.9"/>
<rect x="158.11" y="225.91" width="2.9" height="2.9"/>
<rect x="159.37" y="226.79" width="2.9" height="2.9"/>
<rect x="161.26" y="226.34" width="2.9" height="2.9"/>
<rect x="162.16" y="224.59" width="2.9" height="2.9"/>
<rect x="163.60" y="222.66" width="2.9" height="2.9"/>
<rect x="165.63" y="219.31" width="2.9" height="2.9"/>
<rect x="165.68" y="218.49" width="2.9" height="2.9"/>
<rect x="168.00" y="216.90" width="2.9" height="2.9"/>
<rect x="168.96" y="217.91" width="2.9" height="2.9"/>
<rect x="169.71" y="214.48" width="2.9" height="2.9"/>
<rect x="170.86" y="215.38" width="2.9" height="2.9"/>
<rect x="172.30" y="212.74" width="2.9" height="2.9"/>
<rect x="173.68" y="212.73" width="2.9" height="2.9"/>
<rect x="174.09" y="213.25" width="2.9" height="2.9"/>
<path d="M77.96 307.82l1.8 3.2h-3.6z"/>
<path d="M83.63 304.01l1.8 3.2h-3.6z"/>
<path d="M99.28 286.95l1.8 3.2h-3.6z"/>
<path d="M104.68 279.75l1.8 3.2h-3.6z"/>
<path d="M108.92 274.12l1.8 3.2h-3.6z"/>
<path d="M115.30 269.09l1.8 3.2h-3.6z"/>
<path d="M138.64 246.34l1.8 3.2h-3.6z"/>
<path d="M139.93 244.83l1.8 3.2h-3.6z"/>
<path d="M152.10 234.48l1.8 3.2h-3.6z"/>
<path d="M159.56 225.42l1.8 3.2h-3.6z"/>
<path d="M160.82 225.94l1.8 3.2h-3.6z"/>
<path d="M162.71 225.33l1.8 3.2h-3.6z"/>
<path d="M163.61 223.48l1.8 3.2h-3.6z"/>
<path d="M165.05 222.00l1.8 3.2h-3.6z"/>
<path d="M167.08 218.12l1.8 3.2h-3.6z"/>
<path d="M167.13 217.54l1.8 3.2h-3.6z"/>
<path d="M169.45 216.08l1.8 3.2h-3.6z"/>
<path d="M170.41 216.66l1.8 3.2h-3.6z"/>
<path d="M171.16 213.16l1.8 3.2h-3.6z"/>
<path d="M172.31 214.76l1.8 3.2h-3.6z"/>
<path d="M173.75 211.45l1.8 3.2h-3.6z"/>
<path d="M175.13 211.73l1.8 3.2h-3.6z"/>
<path d="M175.54 212.25l1.8 3.2h-3.6z"/>
</g>
<g fill="none" stroke="#C68E0D" stroke-width="0.95">
<circle cx="76.73" cy="307.83" r="1.55"/>
<circle cx="86.99" cy="301.64" r="1.55"/>
<circle cx="100.38" cy="287.84" r="1.55"/>
<circle cx="105.04" cy="283.13" r="1.55"/>
<circle cx="106.79" cy="282.08" r="1.55"/>
<circle cx="109.53" cy="274.39" r="1.55"/>
<circle cx="113.14" cy="272.18" r="1.55"/>
<circle cx="117.90" cy="268.08" r="1.55"/>
<circle cx="125.69" cy="260.92" r="1.55"/>
<circle cx="132.35" cy="253.94" r="1.55"/>
<circle cx="135.75" cy="250.96" r="1.55"/>
<circle cx="138.40" cy="248.19" r="1.55"/>
<circle cx="148.32" cy="239.40" r="1.55"/>
<circle cx="151.93" cy="235.33" r="1.55"/>
<circle cx="156.44" cy="229.29" r="1.55"/>
<circle cx="159.60" cy="229.62" r="1.55"/>
<circle cx="161.36" cy="228.51" r="1.55"/>
<circle cx="162.43" cy="224.48" r="1.55"/>
<circle cx="163.90" cy="226.00" r="1.55"/>
<circle cx="164.87" cy="221.32" r="1.55"/>
<circle cx="166.73" cy="222.69" r="1.55"/>
<circle cx="166.93" cy="222.53" r="1.55"/>
<circle cx="168.02" cy="218.88" r="1.55"/>
<circle cx="169.30" cy="218.95" r="1.55"/>
<circle cx="169.88" cy="217.07" r="1.55"/>
<circle cx="172.02" cy="216.61" r="1.55"/>
<circle cx="172.05" cy="217.37" r="1.55"/>
<circle cx="173.60" cy="215.21" r="1.55"/>
<circle cx="174.28" cy="214.49" r="1.55"/>
<rect x="75.28" y="310.41" width="2.9" height="2.9"/>
<rect x="85.54" y="303.63" width="2.9" height="2.9"/>
<rect x="98.93" y="290.78" width="2.9" height="2.9"/>
<rect x="103.59" y="286.93" width="2.9" height="2.9"/>
<rect x="105.34" y="286.48" width="2.9" height="2.9"/>
<rect x="108.08" y="278.16" width="2.9" height="2.9"/>
<rect x="111.69" y="273.19" width="2.9" height="2.9"/>
<rect x="116.45" y="267.86" width="2.9" height="2.9"/>
<rect x="124.24" y="260.23" width="2.9" height="2.9"/>
<rect x="130.90" y="253.13" width="2.9" height="2.9"/>
<rect x="134.30" y="249.76" width="2.9" height="2.9"/>
<rect x="136.95" y="247.09" width="2.9" height="2.9"/>
<rect x="146.87" y="238.28" width="2.9" height="2.9"/>
<rect x="150.48" y="234.19" width="2.9" height="2.9"/>
<rect x="154.99" y="228.44" width="2.9" height="2.9"/>
<rect x="158.15" y="228.97" width="2.9" height="2.9"/>
<rect x="159.91" y="227.24" width="2.9" height="2.9"/>
<rect x="160.98" y="223.74" width="2.9" height="2.9"/>
<rect x="162.45" y="225.11" width="2.9" height="2.9"/>
<rect x="163.42" y="220.59" width="2.9" height="2.9"/>
<rect x="165.28" y="221.64" width="2.9" height="2.9"/>
<rect x="165.48" y="221.51" width="2.9" height="2.9"/>
<rect x="166.57" y="218.49" width="2.9" height="2.9"/>
<rect x="167.85" y="218.08" width="2.9" height="2.9"/>
<rect x="168.43" y="215.83" width="2.9" height="2.9"/>
<rect x="170.57" y="216.15" width="2.9" height="2.9"/>
<rect x="170.60" y="216.81" width="2.9" height="2.9"/>
<rect x="172.15" y="214.39" width="2.9" height="2.9"/>
<rect x="172.83" y="213.79" width="2.9" height="2.9"/>
<path d="M76.73 310.62l1.8 3.2h-3.6z"/>
<path d="M86.99 303.11l1.8 3.2h-3.6z"/>
<path d="M100.38 286.17l1.8 3.2h-3.6z"/>
<path d="M105.04 281.22l1.8 3.2h-3.6z"/>
<path d="M106.79 280.97l1.8 3.2h-3.6z"/>
<path d="M109.53 274.21l1.8 3.2h-3.6z"/>
<path d="M113.14 270.56l1.8 3.2h-3.6z"/>
<path d="M117.90 266.26l1.8 3.2h-3.6z"/>
<path d="M125.69 259.50l1.8 3.2h-3.6z"/>
<path d="M132.35 252.45l1.8 3.2h-3.6z"/>
<path d="M135.75 248.81l1.8 3.2h-3.6z"/>
<path d="M138.40 246.41l1.8 3.2h-3.6z"/>
<path d="M148.32 237.00l1.8 3.2h-3.6z"/>
<path d="M151.93 232.92l1.8 3.2h-3.6z"/>
<path d="M156.44 227.45l1.8 3.2h-3.6z"/>
<path d="M159.60 227.87l1.8 3.2h-3.6z"/>
<path d="M161.36 226.13l1.8 3.2h-3.6z"/>
<path d="M162.43 222.93l1.8 3.2h-3.6z"/>
<path d="M163.90 224.23l1.8 3.2h-3.6z"/>
<path d="M164.87 219.79l1.8 3.2h-3.6z"/>
<path d="M166.73 220.52l1.8 3.2h-3.6z"/>
<path d="M166.93 220.57l1.8 3.2h-3.6z"/>
<path d="M168.02 217.33l1.8 3.2h-3.6z"/>
<path d="M169.30 217.19l1.8 3.2h-3.6z"/>
<path d="M169.88 214.84l1.8 3.2h-3.6z"/>
<path d="M172.02 215.03l1.8 3.2h-3.6z"/>
<path d="M172.05 215.69l1.8 3.2h-3.6z"/>
<path d="M173.60 213.29l1.8 3.2h-3.6z"/>
<path d="M174.28 212.72l1.8 3.2h-3.6z"/>
</g>
<path d="M49.9 191.7H196.65V338.1" stroke="#747474" stroke-width="1.3" fill="none"/>
<path d="M49.90 338.1v-2.8M49.9 338.10h2.8M64.63 338.1v-1.7M49.9 323.41h1.7M73.24 338.1v-1.7M49.9 314.82h1.7M79.35 338.1v-1.7M49.9 308.72h1.7M84.09 338.1v-1.7M49.9 303.99h1.7M87.96 338.1v-1.7M49.9 300.13h1.7M91.24 338.1v-1.7M49.9 296.86h1.7M94.08 338.1v-1.7M49.9 294.03h1.7M96.58 338.1v-1.7M49.9 291.53h1.7M98.82 338.1v-2.8M49.9 289.30h2.8M113.54 338.1v-1.7M49.9 274.61h1.7M122.16 338.1v-1.7M49.9 266.02h1.7M128.27 338.1v-1.7M49.9 259.92h1.7M133.01 338.1v-1.7M49.9 255.19h1.7M136.88 338.1v-1.7M49.9 251.33h1.7M140.16 338.1v-1.7M49.9 248.06h1.7M142.99 338.1v-1.7M49.9 245.23h1.7M145.50 338.1v-1.7M49.9 242.73h1.7M147.73 338.1v-2.8M49.9 240.50h2.8M162.46 338.1v-1.7M49.9 225.81h1.7M171.07 338.1v-1.7M49.9 217.22h1.7M177.18 338.1v-1.7M49.9 211.12h1.7M181.92 338.1v-1.7M49.9 206.39h1.7M185.80 338.1v-1.7M49.9 202.53h1.7M189.07 338.1v-1.7M49.9 199.26h1.7M191.91 338.1v-1.7M49.9 196.43h1.7M194.41 338.1v-1.7M49.9 193.93h1.7" stroke="#2c2c2c" stroke-width="1.0" fill="none"/>
<path d="M49.9 191.2V338.1H197.15" stroke="#383838" stroke-width="1.25" fill="none"/>
<text x="45.00" y="349.70">10<tspan dx="-0.2" dy="-2.2" font-size="5.0" stroke-width="0.14">2</tspan></text>
<text x="27.50" y="340.30">10<tspan dx="-0.2" dy="-2.2" font-size="5.0" stroke-width="0.14">2</tspan></text>
<text x="93.92" y="349.70">10<tspan dx="-0.2" dy="-2.2" font-size="5.0" stroke-width="0.14">3</tspan></text>
<text x="27.50" y="291.50">10<tspan dx="-0.2" dy="-2.2" font-size="5.0" stroke-width="0.14">3</tspan></text>
<text x="142.83" y="349.70">10<tspan dx="-0.2" dy="-2.2" font-size="5.0" stroke-width="0.14">4</tspan></text>
<text x="27.50" y="242.70">10<tspan dx="-0.2" dy="-2.2" font-size="5.0" stroke-width="0.14">4</tspan></text>
<text x="191.75" y="349.70">10<tspan dx="-0.2" dy="-2.2" font-size="5.0" stroke-width="0.14">5</tspan></text>
<text x="27.50" y="193.90">10<tspan dx="-0.2" dy="-2.2" font-size="5.0" stroke-width="0.14">5</tspan></text>
<text x="123.28" y="359.50" text-anchor="middle" textLength="112.6" lengthAdjust="spacingAndGlyphs">Measured dynamic modulus [MPa]</text>
<text transform="translate(12.20 264.90) rotate(-90)" text-anchor="middle" textLength="111.2" lengthAdjust="spacingAndGlyphs">Predicted dynamic modulus [MPa]</text>
<text x="2.60" y="195.50">(c)</text>
<text x="58.80" y="203.40"><tspan font-style="italic">R</tspan><tspan dy="-2.4" font-size="4.9" stroke-width="0.1">2</tspan><tspan dy="2.4"> = 0.9806</tspan></text>
<text x="58.80" y="212.70"><tspan font-style="italic">S</tspan><tspan dy="1.4" font-size="5" font-style="italic" stroke-width="0.1">e</tspan><tspan dy="-1.4">/</tspan><tspan font-style="italic">S</tspan><tspan dy="1.4" font-size="5" font-style="italic" stroke-width="0.1">y</tspan><tspan dy="-1.4"> = 0.0975</tspan></text>
</g>
<g>
<path d="M332.13 191.7V338.1M317.4 323.41H464.15M340.74 191.7V338.1M317.4 314.82H464.15M346.85 191.7V338.1M317.4 308.72H464.15M351.59 191.7V338.1M317.4 303.99H464.15M355.46 191.7V338.1M317.4 300.13H464.15M358.74 191.7V338.1M317.4 296.86H464.15M361.58 191.7V338.1M317.4 294.03H464.15M364.08 191.7V338.1M317.4 291.53H464.15M381.04 191.7V338.1M317.4 274.61H464.15M389.66 191.7V338.1M317.4 266.02H464.15M395.77 191.7V338.1M317.4 259.92H464.15M400.51 191.7V338.1M317.4 255.19H464.15M404.38 191.7V338.1M317.4 251.33H464.15M407.66 191.7V338.1M317.4 248.06H464.15M410.49 191.7V338.1M317.4 245.23H464.15M413.00 191.7V338.1M317.4 242.73H464.15M429.96 191.7V338.1M317.4 225.81H464.15M438.57 191.7V338.1M317.4 217.22H464.15M444.68 191.7V338.1M317.4 211.12H464.15M449.42 191.7V338.1M317.4 206.39H464.15M453.30 191.7V338.1M317.4 202.53H464.15M456.57 191.7V338.1M317.4 199.26H464.15M459.41 191.7V338.1M317.4 196.43H464.15M461.91 191.7V338.1M317.4 193.93H464.15" stroke="#f0f0f0" stroke-width="0.7" fill="none"/>
<path d="M366.32 191.7V338.1M317.4 289.30H464.15M415.23 191.7V338.1M317.4 240.50H464.15" stroke="#dddddd" stroke-width="0.9" fill="none"/>
<path d="M317.4 338.1L464.15 191.7" stroke="#363636" stroke-width="1.0" fill="none"/>
<g fill="none" stroke="#3B7CC4" stroke-width="0.95">
<circle cx="343.57" cy="313.25" r="1.55"/>
<circle cx="347.44" cy="309.13" r="1.55"/>
<circle cx="355.71" cy="300.94" r="1.55"/>
<circle cx="371.10" cy="284.47" r="1.55"/>
<circle cx="374.61" cy="280.17" r="1.55"/>
<circle cx="378.45" cy="276.62" r="1.55"/>
<circle cx="383.04" cy="272.36" r="1.55"/>
<circle cx="387.18" cy="268.69" r="1.55"/>
<circle cx="391.25" cy="264.80" r="1.55"/>
<circle cx="395.23" cy="260.76" r="1.55"/>
<circle cx="399.36" cy="256.57" r="1.55"/>
<circle cx="402.65" cy="253.38" r="1.55"/>
<circle cx="406.65" cy="249.25" r="1.55"/>
<circle cx="414.15" cy="241.33" r="1.55"/>
<circle cx="423.97" cy="232.36" r="1.55"/>
<circle cx="427.29" cy="227.84" r="1.55"/>
<circle cx="429.40" cy="226.19" r="1.55"/>
<circle cx="430.57" cy="225.46" r="1.55"/>
<circle cx="432.32" cy="223.01" r="1.55"/>
<circle cx="433.22" cy="222.69" r="1.55"/>
<circle cx="434.49" cy="221.00" r="1.55"/>
<circle cx="436.37" cy="218.96" r="1.55"/>
<circle cx="437.07" cy="218.27" r="1.55"/>
<circle cx="438.08" cy="217.65" r="1.55"/>
<circle cx="439.90" cy="216.03" r="1.55"/>
<circle cx="440.58" cy="215.16" r="1.55"/>
<circle cx="441.11" cy="214.25" r="1.55"/>
<circle cx="442.91" cy="212.98" r="1.55"/>
<circle cx="443.54" cy="211.74" r="1.55"/>
<rect x="342.12" y="311.34" width="2.9" height="2.9"/>
<rect x="345.99" y="307.15" width="2.9" height="2.9"/>
<rect x="354.26" y="299.39" width="2.9" height="2.9"/>
<rect x="369.65" y="286.49" width="2.9" height="2.9"/>
<rect x="373.16" y="282.95" width="2.9" height="2.9"/>
<rect x="377.00" y="278.85" width="2.9" height="2.9"/>
<rect x="381.59" y="272.74" width="2.9" height="2.9"/>
<rect x="385.73" y="267.48" width="2.9" height="2.9"/>
<rect x="389.80" y="263.43" width="2.9" height="2.9"/>
<rect x="393.78" y="259.18" width="2.9" height="2.9"/>
<rect x="397.91" y="255.02" width="2.9" height="2.9"/>
<rect x="401.20" y="252.01" width="2.9" height="2.9"/>
<rect x="405.20" y="247.64" width="2.9" height="2.9"/>
<rect x="412.70" y="239.91" width="2.9" height="2.9"/>
<rect x="422.52" y="230.84" width="2.9" height="2.9"/>
<rect x="425.84" y="226.24" width="2.9" height="2.9"/>
<rect x="427.95" y="224.81" width="2.9" height="2.9"/>
<rect x="429.12" y="224.26" width="2.9" height="2.9"/>
<rect x="430.87" y="221.50" width="2.9" height="2.9"/>
<rect x="431.77" y="221.20" width="2.9" height="2.9"/>
<rect x="433.04" y="219.50" width="2.9" height="2.9"/>
<rect x="434.92" y="217.49" width="2.9" height="2.9"/>
<rect x="435.62" y="216.89" width="2.9" height="2.9"/>
<rect x="436.63" y="216.27" width="2.9" height="2.9"/>
<rect x="438.45" y="214.49" width="2.9" height="2.9"/>
<rect x="439.13" y="213.85" width="2.9" height="2.9"/>
<rect x="439.66" y="212.74" width="2.9" height="2.9"/>
<rect x="441.46" y="211.44" width="2.9" height="2.9"/>
<rect x="442.09" y="210.48" width="2.9" height="2.9"/>
<path d="M343.57 312.15l1.8 3.2h-3.6z"/>
<path d="M347.44 308.24l1.8 3.2h-3.6z"/>
<path d="M355.71 299.76l1.8 3.2h-3.6z"/>
<path d="M371.10 283.32l1.8 3.2h-3.6z"/>
<path d="M374.61 279.62l1.8 3.2h-3.6z"/>
<path d="M378.45 276.40l1.8 3.2h-3.6z"/>
<path d="M383.04 271.50l1.8 3.2h-3.6z"/>
<path d="M387.18 267.25l1.8 3.2h-3.6z"/>
<path d="M391.25 263.15l1.8 3.2h-3.6z"/>
<path d="M395.23 259.17l1.8 3.2h-3.6z"/>
<path d="M399.36 254.90l1.8 3.2h-3.6z"/>
<path d="M402.65 251.94l1.8 3.2h-3.6z"/>
<path d="M406.65 247.64l1.8 3.2h-3.6z"/>
<path d="M414.15 239.85l1.8 3.2h-3.6z"/>
<path d="M423.97 230.80l1.8 3.2h-3.6z"/>
<path d="M427.29 226.49l1.8 3.2h-3.6z"/>
<path d="M429.40 224.59l1.8 3.2h-3.6z"/>
<path d="M430.57 224.17l1.8 3.2h-3.6z"/>
<path d="M432.32 221.62l1.8 3.2h-3.6z"/>
<path d="M433.22 221.16l1.8 3.2h-3.6z"/>
<path d="M434.49 219.37l1.8 3.2h-3.6z"/>
<path d="M436.37 217.45l1.8 3.2h-3.6z"/>
<path d="M437.07 216.85l1.8 3.2h-3.6z"/>
<path d="M438.08 216.30l1.8 3.2h-3.6z"/>
<path d="M439.90 214.42l1.8 3.2h-3.6z"/>
<path d="M440.58 213.92l1.8 3.2h-3.6z"/>
<path d="M441.11 212.71l1.8 3.2h-3.6z"/>
<path d="M442.91 211.53l1.8 3.2h-3.6z"/>
<path d="M443.54 210.29l1.8 3.2h-3.6z"/>
</g>
<g fill="none" stroke="#DD6B22" stroke-width="0.95">
<circle cx="340.45" cy="315.90" r="1.55"/>
<circle cx="345.74" cy="311.23" r="1.55"/>
<circle cx="359.94" cy="296.01" r="1.55"/>
<circle cx="366.37" cy="288.70" r="1.55"/>
<circle cx="372.33" cy="283.47" r="1.55"/>
<circle cx="379.95" cy="274.75" r="1.55"/>
<circle cx="389.01" cy="266.40" r="1.55"/>
<circle cx="396.78" cy="258.40" r="1.55"/>
<circle cx="403.42" cy="251.77" r="1.55"/>
<circle cx="414.35" cy="242.45" r="1.55"/>
<circle cx="419.73" cy="236.68" r="1.55"/>
<circle cx="427.22" cy="228.94" r="1.55"/>
<circle cx="428.69" cy="227.58" r="1.55"/>
<circle cx="429.69" cy="226.62" r="1.55"/>
<circle cx="431.11" cy="224.40" r="1.55"/>
<circle cx="432.10" cy="223.89" r="1.55"/>
<circle cx="433.62" cy="222.60" r="1.55"/>
<circle cx="434.71" cy="221.41" r="1.55"/>
<circle cx="435.86" cy="219.70" r="1.55"/>
<circle cx="437.28" cy="218.45" r="1.55"/>
<circle cx="437.68" cy="218.16" r="1.55"/>
<circle cx="438.92" cy="217.14" r="1.55"/>
<circle cx="440.33" cy="215.52" r="1.55"/>
<circle cx="441.39" cy="214.83" r="1.55"/>
<circle cx="442.01" cy="214.24" r="1.55"/>
<rect x="339.00" y="314.88" width="2.9" height="2.9"/>
<rect x="344.29" y="310.46" width="2.9" height="2.9"/>
<rect x="358.49" y="295.30" width="2.9" height="2.9"/>
<rect x="364.92" y="288.74" width="2.9" height="2.9"/>
<rect x="370.88" y="283.81" width="2.9" height="2.9"/>
<rect x="378.50" y="274.07" width="2.9" height="2.9"/>
<rect x="387.56" y="264.49" width="2.9" height="2.9"/>
<rect x="395.33" y="256.74" width="2.9" height="2.9"/>
<rect x="401.97" y="249.92" width="2.9" height="2.9"/>
<rect x="412.90" y="240.52" width="2.9" height="2.9"/>
<rect x="418.28" y="234.95" width="2.9" height="2.9"/>
<rect x="425.77" y="227.40" width="2.9" height="2.9"/>
<rect x="427.24" y="225.57" width="2.9" height="2.9"/>
<rect x="428.24" y="224.83" width="2.9" height="2.9"/>
<rect x="429.66" y="222.75" width="2.9" height="2.9"/>
<rect x="430.65" y="222.32" width="2.9" height="2.9"/>
<rect x="432.17" y="220.79" width="2.9" height="2.9"/>
<rect x="433.26" y="219.46" width="2.9" height="2.9"/>
<rect x="434.41" y="218.11" width="2.9" height="2.9"/>
<rect x="435.83" y="216.73" width="2.9" height="2.9"/>
<rect x="436.23" y="216.48" width="2.9" height="2.9"/>
<rect x="437.47" y="215.19" width="2.9" height="2.9"/>
<rect x="438.88" y="213.76" width="2.9" height="2.9"/>
<rect x="439.94" y="212.86" width="2.9" height="2.9"/>
<rect x="440.56" y="212.52" width="2.9" height="2.9"/>
<path d="M340.45 314.45l1.8 3.2h-3.6z"/>
<path d="M345.74 310.27l1.8 3.2h-3.6z"/>
<path d="M359.94 294.30l1.8 3.2h-3.6z"/>
<path d="M366.37 286.36l1.8 3.2h-3.6z"/>
<path d="M372.33 281.21l1.8 3.2h-3.6z"/>
<path d="M379.95 273.03l1.8 3.2h-3.6z"/>
<path d="M389.01 264.10l1.8 3.2h-3.6z"/>
<path d="M396.78 256.29l1.8 3.2h-3.6z"/>
<path d="M403.42 249.66l1.8 3.2h-3.6z"/>
<path d="M414.35 240.40l1.8 3.2h-3.6z"/>
<path d="M419.73 234.62l1.8 3.2h-3.6z"/>
<path d="M427.22 226.90l1.8 3.2h-3.6z"/>
<path d="M428.69 225.38l1.8 3.2h-3.6z"/>
<path d="M429.69 224.44l1.8 3.2h-3.6z"/>
<path d="M431.11 222.45l1.8 3.2h-3.6z"/>
<path d="M432.10 222.07l1.8 3.2h-3.6z"/>
<path d="M433.62 220.53l1.8 3.2h-3.6z"/>
<path d="M434.71 219.09l1.8 3.2h-3.6z"/>
<path d="M435.86 217.67l1.8 3.2h-3.6z"/>
<path d="M437.28 216.41l1.8 3.2h-3.6z"/>
<path d="M437.68 216.09l1.8 3.2h-3.6z"/>
<path d="M438.92 214.84l1.8 3.2h-3.6z"/>
<path d="M440.33 213.14l1.8 3.2h-3.6z"/>
<path d="M441.39 212.66l1.8 3.2h-3.6z"/>
<path d="M442.01 212.27l1.8 3.2h-3.6z"/>
</g>
<g fill="none" stroke="#8F8F8F" stroke-width="0.95">
<circle cx="345.46" cy="310.84" r="1.55"/>
<circle cx="351.13" cy="304.68" r="1.55"/>
<circle cx="366.78" cy="289.42" r="1.55"/>
<circle cx="372.18" cy="283.39" r="1.55"/>
<circle cx="376.42" cy="277.10" r="1.55"/>
<circle cx="382.80" cy="272.03" r="1.55"/>
<circle cx="406.14" cy="249.01" r="1.55"/>
<circle cx="407.43" cy="247.80" r="1.55"/>
<circle cx="419.60" cy="236.94" r="1.55"/>
<circle cx="427.06" cy="228.27" r="1.55"/>
<circle cx="428.32" cy="227.63" r="1.55"/>
<circle cx="430.21" cy="225.64" r="1.55"/>
<circle cx="431.11" cy="224.82" r="1.55"/>
<circle cx="432.55" cy="223.01" r="1.55"/>
<circle cx="434.58" cy="220.67" r="1.55"/>
<circle cx="434.63" cy="220.83" r="1.55"/>
<circle cx="436.95" cy="218.16" r="1.55"/>
<circle cx="437.91" cy="218.09" r="1.55"/>
<circle cx="438.66" cy="216.70" r="1.55"/>
<circle cx="439.81" cy="215.91" r="1.55"/>
<circle cx="441.25" cy="214.10" r="1.55"/>
<circle cx="442.63" cy="213.51" r="1.55"/>
<circle cx="443.04" cy="212.81" r="1.55"/>
<rect x="344.01" y="309.44" width="2.9" height="2.9"/>
<rect x="349.68" y="303.38" width="2.9" height="2.9"/>
<rect x="365.33" y="290.72" width="2.9" height="2.9"/>
<rect x="370.73" y="285.44" width="2.9" height="2.9"/>
<rect x="374.97" y="279.28" width="2.9" height="2.9"/>
<rect x="381.35" y="271.68" width="2.9" height="2.9"/>
<rect x="404.69" y="247.85" width="2.9" height="2.9"/>
<rect x="405.98" y="246.58" width="2.9" height="2.9"/>
<rect x="418.15" y="235.72" width="2.9" height="2.9"/>
<rect x="425.61" y="226.91" width="2.9" height="2.9"/>
<rect x="426.87" y="226.48" width="2.9" height="2.9"/>
<rect x="428.76" y="224.40" width="2.9" height="2.9"/>
<rect x="429.66" y="223.86" width="2.9" height="2.9"/>
<rect x="431.10" y="222.06" width="2.9" height="2.9"/>
<rect x="433.13" y="219.50" width="2.9" height="2.9"/>
<rect x="433.18" y="219.64" width="2.9" height="2.9"/>
<rect x="435.50" y="217.18" width="2.9" height="2.9"/>
<rect x="436.46" y="216.87" width="2.9" height="2.9"/>
<rect x="437.21" y="215.30" width="2.9" height="2.9"/>
<rect x="438.36" y="214.83" width="2.9" height="2.9"/>
<rect x="439.80" y="212.95" width="2.9" height="2.9"/>
<rect x="441.18" y="212.28" width="2.9" height="2.9"/>
<rect x="441.59" y="211.60" width="2.9" height="2.9"/>
<path d="M345.46 308.46l1.8 3.2h-3.6z"/>
<path d="M351.13 302.29l1.8 3.2h-3.6z"/>
<path d="M366.78 287.30l1.8 3.2h-3.6z"/>
<path d="M372.18 281.63l1.8 3.2h-3.6z"/>
<path d="M376.42 276.05l1.8 3.2h-3.6z"/>
<path d="M382.80 270.37l1.8 3.2h-3.6z"/>
<path d="M406.14 247.39l1.8 3.2h-3.6z"/>
<path d="M407.43 245.68l1.8 3.2h-3.6z"/>
<path d="M419.60 235.30l1.8 3.2h-3.6z"/>
<path d="M427.06 226.20l1.8 3.2h-3.6z"/>
<path d="M428.32 225.95l1.8 3.2h-3.6z"/>
<path d="M430.21 223.93l1.8 3.2h-3.6z"/>
<path d="M431.11 223.23l1.8 3.2h-3.6z"/>
<path d="M432.55 221.49l1.8 3.2h-3.6z"/>
<path d="M434.58 218.70l1.8 3.2h-3.6z"/>
<path d="M434.63 219.14l1.8 3.2h-3.6z"/>
<path d="M436.95 216.61l1.8 3.2h-3.6z"/>
<path d="M437.91 216.22l1.8 3.2h-3.6z"/>
<path d="M438.66 214.83l1.8 3.2h-3.6z"/>
<path d="M439.81 214.19l1.8 3.2h-3.6z"/>
<path d="M441.25 212.25l1.8 3.2h-3.6z"/>
<path d="M442.63 211.60l1.8 3.2h-3.6z"/>
<path d="M443.04 211.08l1.8 3.2h-3.6z"/>
</g>
<g fill="none" stroke="#C68E0D" stroke-width="0.95">
<circle cx="344.23" cy="312.30" r="1.55"/>
<circle cx="354.49" cy="301.31" r="1.55"/>
<circle cx="367.88" cy="287.97" r="1.55"/>
<circle cx="372.54" cy="283.88" r="1.55"/>
<circle cx="374.29" cy="280.71" r="1.55"/>
<circle cx="377.03" cy="276.41" r="1.55"/>
<circle cx="380.64" cy="273.59" r="1.55"/>
<circle cx="385.40" cy="269.81" r="1.55"/>
<circle cx="393.19" cy="261.83" r="1.55"/>
<circle cx="399.85" cy="255.29" r="1.55"/>
<circle cx="403.25" cy="251.97" r="1.55"/>
<circle cx="405.90" cy="249.47" r="1.55"/>
<circle cx="415.82" cy="240.37" r="1.55"/>
<circle cx="419.43" cy="237.33" r="1.55"/>
<circle cx="423.94" cy="232.12" r="1.55"/>
<circle cx="427.10" cy="229.09" r="1.55"/>
<circle cx="428.86" cy="227.33" r="1.55"/>
<circle cx="429.93" cy="225.61" r="1.55"/>
<circle cx="431.40" cy="224.96" r="1.55"/>
<circle cx="432.37" cy="223.51" r="1.55"/>
<circle cx="434.23" cy="221.90" r="1.55"/>
<circle cx="434.43" cy="221.99" r="1.55"/>
<circle cx="435.52" cy="220.02" r="1.55"/>
<circle cx="436.80" cy="219.00" r="1.55"/>
<circle cx="437.38" cy="217.99" r="1.55"/>
<circle cx="439.52" cy="216.73" r="1.55"/>
<circle cx="439.55" cy="216.46" r="1.55"/>
<circle cx="441.10" cy="215.06" r="1.55"/>
<circle cx="441.78" cy="214.21" r="1.55"/>
<rect x="342.78" y="310.44" width="2.9" height="2.9"/>
<rect x="353.04" y="299.38" width="2.9" height="2.9"/>
<rect x="366.43" y="288.94" width="2.9" height="2.9"/>
<rect x="371.09" y="285.38" width="2.9" height="2.9"/>
<rect x="372.84" y="282.94" width="2.9" height="2.9"/>
<rect x="375.58" y="278.40" width="2.9" height="2.9"/>
<rect x="379.19" y="274.41" width="2.9" height="2.9"/>
<rect x="383.95" y="268.67" width="2.9" height="2.9"/>
<rect x="391.74" y="260.41" width="2.9" height="2.9"/>
<rect x="398.40" y="253.80" width="2.9" height="2.9"/>
<rect x="401.80" y="250.62" width="2.9" height="2.9"/>
<rect x="404.45" y="248.08" width="2.9" height="2.9"/>
<rect x="414.37" y="238.92" width="2.9" height="2.9"/>
<rect x="417.98" y="235.66" width="2.9" height="2.9"/>
<rect x="422.49" y="230.60" width="2.9" height="2.9"/>
<rect x="425.65" y="227.66" width="2.9" height="2.9"/>
<rect x="427.41" y="226.03" width="2.9" height="2.9"/>
<rect x="428.48" y="224.16" width="2.9" height="2.9"/>
<rect x="429.95" y="223.37" width="2.9" height="2.9"/>
<rect x="430.92" y="221.98" width="2.9" height="2.9"/>
<rect x="432.78" y="220.42" width="2.9" height="2.9"/>
<rect x="432.98" y="220.36" width="2.9" height="2.9"/>
<rect x="434.07" y="218.63" width="2.9" height="2.9"/>
<rect x="435.35" y="217.65" width="2.9" height="2.9"/>
<rect x="435.93" y="216.85" width="2.9" height="2.9"/>
<rect x="438.07" y="215.14" width="2.9" height="2.9"/>
<rect x="438.10" y="215.00" width="2.9" height="2.9"/>
<rect x="439.65" y="213.67" width="2.9" height="2.9"/>
<rect x="440.33" y="212.74" width="2.9" height="2.9"/>
<path d="M344.23 309.47l1.8 3.2h-3.6z"/>
<path d="M354.49 298.58l1.8 3.2h-3.6z"/>
<path d="M367.88 285.42l1.8 3.2h-3.6z"/>
<path d="M372.54 281.08l1.8 3.2h-3.6z"/>
<path d="M374.29 278.98l1.8 3.2h-3.6z"/>
<path d="M377.03 275.29l1.8 3.2h-3.6z"/>
<path d="M380.64 272.36l1.8 3.2h-3.6z"/>
<path d="M385.40 267.86l1.8 3.2h-3.6z"/>
<path d="M393.19 259.60l1.8 3.2h-3.6z"/>
<path d="M399.85 253.21l1.8 3.2h-3.6z"/>
<path d="M403.25 249.86l1.8 3.2h-3.6z"/>
<path d="M405.90 247.44l1.8 3.2h-3.6z"/>
<path d="M415.82 238.53l1.8 3.2h-3.6z"/>
<path d="M419.43 235.23l1.8 3.2h-3.6z"/>
<path d="M423.94 230.15l1.8 3.2h-3.6z"/>
<path d="M427.10 227.06l1.8 3.2h-3.6z"/>
<path d="M428.86 225.58l1.8 3.2h-3.6z"/>
<path d="M429.93 223.73l1.8 3.2h-3.6z"/>
<path d="M431.40 222.56l1.8 3.2h-3.6z"/>
<path d="M432.37 221.18l1.8 3.2h-3.6z"/>
<path d="M434.23 219.89l1.8 3.2h-3.6z"/>
<path d="M434.43 219.86l1.8 3.2h-3.6z"/>
<path d="M435.52 217.76l1.8 3.2h-3.6z"/>
<path d="M436.80 217.14l1.8 3.2h-3.6z"/>
<path d="M437.38 216.30l1.8 3.2h-3.6z"/>
<path d="M439.52 214.55l1.8 3.2h-3.6z"/>
<path d="M439.55 214.40l1.8 3.2h-3.6z"/>
<path d="M441.10 212.71l1.8 3.2h-3.6z"/>
<path d="M441.78 212.24l1.8 3.2h-3.6z"/>
</g>
<path d="M317.4 191.7H464.15V338.1" stroke="#747474" stroke-width="1.3" fill="none"/>
<path d="M317.40 338.1v-2.8M317.4 338.10h2.8M332.13 338.1v-1.7M317.4 323.41h1.7M340.74 338.1v-1.7M317.4 314.82h1.7M346.85 338.1v-1.7M317.4 308.72h1.7M351.59 338.1v-1.7M317.4 303.99h1.7M355.46 338.1v-1.7M317.4 300.13h1.7M358.74 338.1v-1.7M317.4 296.86h1.7M361.58 338.1v-1.7M317.4 294.03h1.7M364.08 338.1v-1.7M317.4 291.53h1.7M366.32 338.1v-2.8M317.4 289.30h2.8M381.04 338.1v-1.7M317.4 274.61h1.7M389.66 338.1v-1.7M317.4 266.02h1.7M395.77 338.1v-1.7M317.4 259.92h1.7M400.51 338.1v-1.7M317.4 255.19h1.7M404.38 338.1v-1.7M317.4 251.33h1.7M407.66 338.1v-1.7M317.4 248.06h1.7M410.49 338.1v-1.7M317.4 245.23h1.7M413.00 338.1v-1.7M317.4 242.73h1.7M415.23 338.1v-2.8M317.4 240.50h2.8M429.96 338.1v-1.7M317.4 225.81h1.7M438.57 338.1v-1.7M317.4 217.22h1.7M444.68 338.1v-1.7M317.4 211.12h1.7M449.42 338.1v-1.7M317.4 206.39h1.7M453.30 338.1v-1.7M317.4 202.53h1.7M456.57 338.1v-1.7M317.4 199.26h1.7M459.41 338.1v-1.7M317.4 196.43h1.7M461.91 338.1v-1.7M317.4 193.93h1.7" stroke="#2c2c2c" stroke-width="1.0" fill="none"/>
<path d="M317.4 191.2V338.1H464.65" stroke="#383838" stroke-width="1.25" fill="none"/>
<text x="312.50" y="349.70">10<tspan dx="-0.2" dy="-2.2" font-size="5.0" stroke-width="0.14">2</tspan></text>
<text x="294.70" y="340.30">10<tspan dx="-0.2" dy="-2.2" font-size="5.0" stroke-width="0.14">2</tspan></text>
<text x="361.42" y="349.70">10<tspan dx="-0.2" dy="-2.2" font-size="5.0" stroke-width="0.14">3</tspan></text>
<text x="294.70" y="291.50">10<tspan dx="-0.2" dy="-2.2" font-size="5.0" stroke-width="0.14">3</tspan></text>
<text x="410.33" y="349.70">10<tspan dx="-0.2" dy="-2.2" font-size="5.0" stroke-width="0.14">4</tspan></text>
<text x="294.70" y="242.70">10<tspan dx="-0.2" dy="-2.2" font-size="5.0" stroke-width="0.14">4</tspan></text>
<text x="459.25" y="349.70">10<tspan dx="-0.2" dy="-2.2" font-size="5.0" stroke-width="0.14">5</tspan></text>
<text x="294.70" y="193.90">10<tspan dx="-0.2" dy="-2.2" font-size="5.0" stroke-width="0.14">5</tspan></text>
<text x="390.77" y="359.50" text-anchor="middle" textLength="112.6" lengthAdjust="spacingAndGlyphs">Measured dynamic modulus [MPa]</text>
<text transform="translate(279.60 264.90) rotate(-90)" text-anchor="middle" textLength="111.2" lengthAdjust="spacingAndGlyphs">Predicted dynamic modulus [MPa]</text>
<text x="269.50" y="195.50">(d)</text>
<text x="326.30" y="203.40"><tspan font-style="italic">R</tspan><tspan dy="-2.4" font-size="4.9" stroke-width="0.1">2</tspan><tspan dy="2.4"> = 0.9974</tspan></text>
<text x="326.30" y="212.70"><tspan font-style="italic">S</tspan><tspan dy="1.4" font-size="5" font-style="italic" stroke-width="0.1">e</tspan><tspan dy="-1.4">/</tspan><tspan font-style="italic">S</tspan><tspan dy="1.4" font-size="5" font-style="italic" stroke-width="0.1">y</tspan><tspan dy="-1.4"> = 0.0351</tspan></text>
</g>
<g>
<path d="M64.63 377.0V523.4M49.9 508.71H196.65M73.24 377.0V523.4M49.9 500.12H196.65M79.35 377.0V523.4M49.9 494.02H196.65M84.09 377.0V523.4M49.9 489.29H196.65M87.96 377.0V523.4M49.9 485.43H196.65M91.24 377.0V523.4M49.9 482.16H196.65M94.08 377.0V523.4M49.9 479.33H196.65M96.58 377.0V523.4M49.9 476.83H196.65M113.54 377.0V523.4M49.9 459.91H196.65M122.16 377.0V523.4M49.9 451.32H196.65M128.27 377.0V523.4M49.9 445.22H196.65M133.01 377.0V523.4M49.9 440.49H196.65M136.88 377.0V523.4M49.9 436.63H196.65M140.16 377.0V523.4M49.9 433.36H196.65M142.99 377.0V523.4M49.9 430.53H196.65M145.50 377.0V523.4M49.9 428.03H196.65M162.46 377.0V523.4M49.9 411.11H196.65M171.07 377.0V523.4M49.9 402.52H196.65M177.18 377.0V523.4M49.9 396.42H196.65M181.92 377.0V523.4M49.9 391.69H196.65M185.80 377.0V523.4M49.9 387.83H196.65M189.07 377.0V523.4M49.9 384.56H196.65M191.91 377.0V523.4M49.9 381.73H196.65M194.41 377.0V523.4M49.9 379.23H196.65" stroke="#f0f0f0" stroke-width="0.7" fill="none"/>
<path d="M98.82 377.0V523.4M49.9 474.60H196.65M147.73 377.0V523.4M49.9 425.80H196.65" stroke="#dddddd" stroke-width="0.9" fill="none"/>
<path d="M49.9 523.4L196.65 377.0" stroke="#363636" stroke-width="1.0" fill="none"/>
<g fill="none" stroke="#3B7CC4" stroke-width="0.95">
<circle cx="76.07" cy="501.48" r="1.55"/>
<circle cx="79.94" cy="495.72" r="1.55"/>
<circle cx="88.21" cy="488.00" r="1.55"/>
<circle cx="103.60" cy="469.51" r="1.55"/>
<circle cx="107.11" cy="465.54" r="1.55"/>
<circle cx="110.95" cy="461.03" r="1.55"/>
<circle cx="115.54" cy="459.13" r="1.55"/>
<circle cx="119.68" cy="454.40" r="1.55"/>
<circle cx="123.75" cy="451.22" r="1.55"/>
<circle cx="127.73" cy="446.87" r="1.55"/>
<circle cx="131.86" cy="442.62" r="1.55"/>
<circle cx="135.15" cy="439.72" r="1.55"/>
<circle cx="139.15" cy="435.78" r="1.55"/>
<circle cx="146.65" cy="426.35" r="1.55"/>
<circle cx="156.47" cy="416.63" r="1.55"/>
<circle cx="159.79" cy="412.91" r="1.55"/>
<circle cx="161.90" cy="409.92" r="1.55"/>
<circle cx="163.07" cy="411.56" r="1.55"/>
<circle cx="164.82" cy="406.78" r="1.55"/>
<circle cx="165.72" cy="409.13" r="1.55"/>
<circle cx="166.99" cy="405.16" r="1.55"/>
<circle cx="168.87" cy="404.85" r="1.55"/>
<circle cx="169.57" cy="402.32" r="1.55"/>
<circle cx="170.58" cy="405.31" r="1.55"/>
<circle cx="172.40" cy="402.18" r="1.55"/>
<circle cx="173.08" cy="400.99" r="1.55"/>
<circle cx="173.61" cy="399.08" r="1.55"/>
<circle cx="175.41" cy="400.64" r="1.55"/>
<circle cx="176.04" cy="396.41" r="1.55"/>
<rect x="74.62" y="501.99" width="2.9" height="2.9"/>
<rect x="78.49" y="495.57" width="2.9" height="2.9"/>
<rect x="86.76" y="487.49" width="2.9" height="2.9"/>
<rect x="102.15" y="473.17" width="2.9" height="2.9"/>
<rect x="105.66" y="470.89" width="2.9" height="2.9"/>
<rect x="109.50" y="464.70" width="2.9" height="2.9"/>
<rect x="114.09" y="458.60" width="2.9" height="2.9"/>
<rect x="118.23" y="454.07" width="2.9" height="2.9"/>
<rect x="122.30" y="449.70" width="2.9" height="2.9"/>
<rect x="126.28" y="445.40" width="2.9" height="2.9"/>
<rect x="130.41" y="441.49" width="2.9" height="2.9"/>
<rect x="133.70" y="438.16" width="2.9" height="2.9"/>
<rect x="137.70" y="434.65" width="2.9" height="2.9"/>
<rect x="145.20" y="424.96" width="2.9" height="2.9"/>
<rect x="155.02" y="414.96" width="2.9" height="2.9"/>
<rect x="158.34" y="411.98" width="2.9" height="2.9"/>
<rect x="160.45" y="408.99" width="2.9" height="2.9"/>
<rect x="161.62" y="410.58" width="2.9" height="2.9"/>
<rect x="163.37" y="405.21" width="2.9" height="2.9"/>
<rect x="164.27" y="408.01" width="2.9" height="2.9"/>
<rect x="165.54" y="403.99" width="2.9" height="2.9"/>
<rect x="167.42" y="403.39" width="2.9" height="2.9"/>
<rect x="168.12" y="401.06" width="2.9" height="2.9"/>
<rect x="169.13" y="403.60" width="2.9" height="2.9"/>
<rect x="170.95" y="400.65" width="2.9" height="2.9"/>
<rect x="171.63" y="399.31" width="2.9" height="2.9"/>
<rect x="172.16" y="397.43" width="2.9" height="2.9"/>
<rect x="173.96" y="399.35" width="2.9" height="2.9"/>
<rect x="174.59" y="395.01" width="2.9" height="2.9"/>
<path d="M76.07 499.56l1.8 3.2h-3.6z"/>
<path d="M79.94 493.73l1.8 3.2h-3.6z"/>
<path d="M88.21 486.12l1.8 3.2h-3.6z"/>
<path d="M103.60 469.82l1.8 3.2h-3.6z"/>
<path d="M107.11 468.10l1.8 3.2h-3.6z"/>
<path d="M110.95 461.99l1.8 3.2h-3.6z"/>
<path d="M115.54 457.84l1.8 3.2h-3.6z"/>
<path d="M119.68 453.60l1.8 3.2h-3.6z"/>
<path d="M123.75 449.29l1.8 3.2h-3.6z"/>
<path d="M127.73 445.34l1.8 3.2h-3.6z"/>
<path d="M131.86 441.01l1.8 3.2h-3.6z"/>
<path d="M135.15 437.86l1.8 3.2h-3.6z"/>
<path d="M139.15 434.53l1.8 3.2h-3.6z"/>
<path d="M146.65 424.40l1.8 3.2h-3.6z"/>
<path d="M156.47 414.49l1.8 3.2h-3.6z"/>
<path d="M159.79 411.33l1.8 3.2h-3.6z"/>
<path d="M161.90 407.75l1.8 3.2h-3.6z"/>
<path d="M163.07 410.17l1.8 3.2h-3.6z"/>
<path d="M164.82 404.86l1.8 3.2h-3.6z"/>
<path d="M165.72 408.05l1.8 3.2h-3.6z"/>
<path d="M166.99 403.75l1.8 3.2h-3.6z"/>
<path d="M168.87 402.77l1.8 3.2h-3.6z"/>
<path d="M169.57 400.70l1.8 3.2h-3.6z"/>
<path d="M170.58 403.27l1.8 3.2h-3.6z"/>
<path d="M172.40 400.69l1.8 3.2h-3.6z"/>
<path d="M173.08 399.22l1.8 3.2h-3.6z"/>
<path d="M173.61 397.20l1.8 3.2h-3.6z"/>
<path d="M175.41 399.36l1.8 3.2h-3.6z"/>
<path d="M176.04 394.66l1.8 3.2h-3.6z"/>
</g>
<g fill="none" stroke="#DD6B22" stroke-width="0.95">
<circle cx="72.95" cy="501.11" r="1.55"/>
<circle cx="78.24" cy="496.44" r="1.55"/>
<circle cx="92.44" cy="481.12" r="1.55"/>
<circle cx="98.87" cy="475.93" r="1.55"/>
<circle cx="104.83" cy="469.74" r="1.55"/>
<circle cx="112.45" cy="457.34" r="1.55"/>
<circle cx="121.51" cy="450.21" r="1.55"/>
<circle cx="129.28" cy="442.33" r="1.55"/>
<circle cx="135.92" cy="436.33" r="1.55"/>
<circle cx="146.85" cy="428.57" r="1.55"/>
<circle cx="152.23" cy="421.47" r="1.55"/>
<circle cx="159.72" cy="415.07" r="1.55"/>
<circle cx="161.19" cy="413.55" r="1.55"/>
<circle cx="162.19" cy="412.33" r="1.55"/>
<circle cx="163.61" cy="408.86" r="1.55"/>
<circle cx="164.60" cy="408.49" r="1.55"/>
<circle cx="166.12" cy="407.37" r="1.55"/>
<circle cx="167.21" cy="407.73" r="1.55"/>
<circle cx="168.36" cy="403.53" r="1.55"/>
<circle cx="169.78" cy="402.17" r="1.55"/>
<circle cx="170.18" cy="402.33" r="1.55"/>
<circle cx="171.42" cy="402.78" r="1.55"/>
<circle cx="172.83" cy="399.43" r="1.55"/>
<circle cx="173.89" cy="400.36" r="1.55"/>
<circle cx="174.51" cy="399.43" r="1.55"/>
<rect x="71.50" y="503.01" width="2.9" height="2.9"/>
<rect x="76.79" y="498.96" width="2.9" height="2.9"/>
<rect x="90.99" y="481.91" width="2.9" height="2.9"/>
<rect x="97.42" y="478.17" width="2.9" height="2.9"/>
<rect x="103.38" y="474.50" width="2.9" height="2.9"/>
<rect x="111.00" y="460.92" width="2.9" height="2.9"/>
<rect x="120.06" y="448.88" width="2.9" height="2.9"/>
<rect x="127.83" y="441.36" width="2.9" height="2.9"/>
<rect x="134.47" y="435.20" width="2.9" height="2.9"/>
<rect x="145.40" y="427.58" width="2.9" height="2.9"/>
<rect x="150.78" y="420.61" width="2.9" height="2.9"/>
<rect x="158.27" y="413.84" width="2.9" height="2.9"/>
<rect x="159.74" y="412.82" width="2.9" height="2.9"/>
<rect x="160.74" y="411.32" width="2.9" height="2.9"/>
<rect x="162.16" y="408.29" width="2.9" height="2.9"/>
<rect x="163.15" y="407.88" width="2.9" height="2.9"/>
<rect x="164.67" y="406.84" width="2.9" height="2.9"/>
<rect x="165.76" y="406.77" width="2.9" height="2.9"/>
<rect x="166.91" y="402.39" width="2.9" height="2.9"/>
<rect x="168.33" y="401.27" width="2.9" height="2.9"/>
<rect x="168.73" y="401.37" width="2.9" height="2.9"/>
<rect x="169.97" y="401.94" width="2.9" height="2.9"/>
<rect x="171.38" y="398.73" width="2.9" height="2.9"/>
<rect x="172.44" y="400.10" width="2.9" height="2.9"/>
<rect x="173.06" y="398.73" width="2.9" height="2.9"/>
<path d="M72.95 502.66l1.8 3.2h-3.6z"/>
<path d="M78.24 498.33l1.8 3.2h-3.6z"/>
<path d="M92.44 480.06l1.8 3.2h-3.6z"/>
<path d="M98.87 475.51l1.8 3.2h-3.6z"/>
<path d="M104.83 472.00l1.8 3.2h-3.6z"/>
<path d="M112.45 458.86l1.8 3.2h-3.6z"/>
<path d="M121.51 448.87l1.8 3.2h-3.6z"/>
<path d="M129.28 441.13l1.8 3.2h-3.6z"/>
<path d="M135.92 434.97l1.8 3.2h-3.6z"/>
<path d="M146.85 427.31l1.8 3.2h-3.6z"/>
<path d="M152.23 420.29l1.8 3.2h-3.6z"/>
<path d="M159.72 413.54l1.8 3.2h-3.6z"/>
<path d="M161.19 412.30l1.8 3.2h-3.6z"/>
<path d="M162.19 411.08l1.8 3.2h-3.6z"/>
<path d="M163.61 407.90l1.8 3.2h-3.6z"/>
<path d="M164.60 407.57l1.8 3.2h-3.6z"/>
<path d="M166.12 406.41l1.8 3.2h-3.6z"/>
<path d="M167.21 406.84l1.8 3.2h-3.6z"/>
<path d="M168.36 402.43l1.8 3.2h-3.6z"/>
<path d="M169.78 400.23l1.8 3.2h-3.6z"/>
<path d="M170.18 401.04l1.8 3.2h-3.6z"/>
<path d="M171.42 401.82l1.8 3.2h-3.6z"/>
<path d="M172.83 398.23l1.8 3.2h-3.6z"/>
<path d="M173.89 399.77l1.8 3.2h-3.6z"/>
<path d="M174.51 398.13l1.8 3.2h-3.6z"/>
</g>
<g fill="none" stroke="#8F8F8F" stroke-width="0.95">
<circle cx="77.96" cy="498.35" r="1.55"/>
<circle cx="83.63" cy="493.18" r="1.55"/>
<circle cx="99.28" cy="475.37" r="1.55"/>
<circle cx="104.68" cy="469.61" r="1.55"/>
<circle cx="108.92" cy="461.59" r="1.55"/>
<circle cx="115.30" cy="455.83" r="1.55"/>
<circle cx="138.64" cy="433.66" r="1.55"/>
<circle cx="139.93" cy="432.25" r="1.55"/>
<circle cx="152.10" cy="421.79" r="1.55"/>
<circle cx="159.56" cy="412.73" r="1.55"/>
<circle cx="160.82" cy="414.68" r="1.55"/>
<circle cx="162.71" cy="411.05" r="1.55"/>
<circle cx="163.61" cy="411.46" r="1.55"/>
<circle cx="165.05" cy="410.24" r="1.55"/>
<circle cx="167.08" cy="405.48" r="1.55"/>
<circle cx="167.13" cy="405.95" r="1.55"/>
<circle cx="169.45" cy="403.24" r="1.55"/>
<circle cx="170.41" cy="405.99" r="1.55"/>
<circle cx="171.16" cy="400.71" r="1.55"/>
<circle cx="172.31" cy="402.87" r="1.55"/>
<circle cx="173.75" cy="399.87" r="1.55"/>
<circle cx="175.13" cy="400.08" r="1.55"/>
<circle cx="175.54" cy="398.72" r="1.55"/>
<rect x="76.51" y="497.20" width="2.9" height="2.9"/>
<rect x="82.18" y="492.36" width="2.9" height="2.9"/>
<rect x="97.83" y="479.63" width="2.9" height="2.9"/>
<rect x="103.23" y="476.36" width="2.9" height="2.9"/>
<rect x="107.47" y="468.69" width="2.9" height="2.9"/>
<rect x="113.85" y="457.96" width="2.9" height="2.9"/>
<rect x="137.19" y="431.97" width="2.9" height="2.9"/>
<rect x="138.48" y="431.29" width="2.9" height="2.9"/>
<rect x="150.65" y="419.80" width="2.9" height="2.9"/>
<rect x="158.11" y="411.49" width="2.9" height="2.9"/>
<rect x="159.37" y="413.28" width="2.9" height="2.9"/>
<rect x="161.26" y="409.81" width="2.9" height="2.9"/>
<rect x="162.16" y="410.27" width="2.9" height="2.9"/>
<rect x="163.60" y="408.60" width="2.9" height="2.9"/>
<rect x="165.63" y="403.91" width="2.9" height="2.9"/>
<rect x="165.68" y="404.78" width="2.9" height="2.9"/>
<rect x="168.00" y="401.65" width="2.9" height="2.9"/>
<rect x="168.96" y="404.63" width="2.9" height="2.9"/>
<rect x="169.71" y="399.60" width="2.9" height="2.9"/>
<rect x="170.86" y="401.45" width="2.9" height="2.9"/>
<rect x="172.30" y="398.18" width="2.9" height="2.9"/>
<rect x="173.68" y="398.58" width="2.9" height="2.9"/>
<rect x="174.09" y="397.20" width="2.9" height="2.9"/>
<path d="M77.96 494.10l1.8 3.2h-3.6z"/>
<path d="M83.63 489.73l1.8 3.2h-3.6z"/>
<path d="M99.28 472.55l1.8 3.2h-3.6z"/>
<path d="M104.68 466.02l1.8 3.2h-3.6z"/>
<path d="M108.92 459.02l1.8 3.2h-3.6z"/>
<path d="M115.30 454.17l1.8 3.2h-3.6z"/>
<path d="M138.64 431.05l1.8 3.2h-3.6z"/>
<path d="M139.93 429.74l1.8 3.2h-3.6z"/>
<path d="M152.10 419.16l1.8 3.2h-3.6z"/>
<path d="M159.56 410.69l1.8 3.2h-3.6z"/>
<path d="M160.82 412.51l1.8 3.2h-3.6z"/>
<path d="M162.71 409.07l1.8 3.2h-3.6z"/>
<path d="M163.61 409.46l1.8 3.2h-3.6z"/>
<path d="M165.05 407.47l1.8 3.2h-3.6z"/>
<path d="M167.08 402.60l1.8 3.2h-3.6z"/>
<path d="M167.13 403.12l1.8 3.2h-3.6z"/>
<path d="M169.45 400.88l1.8 3.2h-3.6z"/>
<path d="M170.41 403.67l1.8 3.2h-3.6z"/>
<path d="M171.16 398.46l1.8 3.2h-3.6z"/>
<path d="M172.31 400.54l1.8 3.2h-3.6z"/>
<path d="M173.75 397.37l1.8 3.2h-3.6z"/>
<path d="M175.13 397.27l1.8 3.2h-3.6z"/>
<path d="M175.54 396.17l1.8 3.2h-3.6z"/>
</g>
<g fill="none" stroke="#C68E0D" stroke-width="0.95">
<circle cx="76.73" cy="495.21" r="1.55"/>
<circle cx="86.99" cy="484.81" r="1.55"/>
<circle cx="100.38" cy="472.47" r="1.55"/>
<circle cx="105.04" cy="466.11" r="1.55"/>
<circle cx="106.79" cy="465.24" r="1.55"/>
<circle cx="109.53" cy="459.07" r="1.55"/>
<circle cx="113.14" cy="457.68" r="1.55"/>
<circle cx="117.90" cy="453.85" r="1.55"/>
<circle cx="125.69" cy="445.99" r="1.55"/>
<circle cx="132.35" cy="439.51" r="1.55"/>
<circle cx="135.75" cy="436.53" r="1.55"/>
<circle cx="138.40" cy="433.31" r="1.55"/>
<circle cx="148.32" cy="423.89" r="1.55"/>
<circle cx="151.93" cy="421.05" r="1.55"/>
<circle cx="156.44" cy="415.94" r="1.55"/>
<circle cx="159.60" cy="414.46" r="1.55"/>
<circle cx="161.36" cy="412.81" r="1.55"/>
<circle cx="162.43" cy="409.58" r="1.55"/>
<circle cx="163.90" cy="411.99" r="1.55"/>
<circle cx="164.87" cy="406.23" r="1.55"/>
<circle cx="166.73" cy="407.74" r="1.55"/>
<circle cx="166.93" cy="407.44" r="1.55"/>
<circle cx="168.02" cy="403.57" r="1.55"/>
<circle cx="169.30" cy="405.77" r="1.55"/>
<circle cx="169.88" cy="402.20" r="1.55"/>
<circle cx="172.02" cy="402.57" r="1.55"/>
<circle cx="172.05" cy="402.39" r="1.55"/>
<circle cx="173.60" cy="400.88" r="1.55"/>
<circle cx="174.28" cy="398.65" r="1.55"/>
<rect x="75.28" y="498.09" width="2.9" height="2.9"/>
<rect x="85.54" y="487.63" width="2.9" height="2.9"/>
<rect x="98.93" y="475.98" width="2.9" height="2.9"/>
<rect x="103.59" y="470.91" width="2.9" height="2.9"/>
<rect x="105.34" y="470.80" width="2.9" height="2.9"/>
<rect x="108.08" y="463.70" width="2.9" height="2.9"/>
<rect x="111.69" y="459.34" width="2.9" height="2.9"/>
<rect x="116.45" y="453.55" width="2.9" height="2.9"/>
<rect x="124.24" y="445.16" width="2.9" height="2.9"/>
<rect x="130.90" y="438.34" width="2.9" height="2.9"/>
<rect x="134.30" y="435.62" width="2.9" height="2.9"/>
<rect x="136.95" y="432.49" width="2.9" height="2.9"/>
<rect x="146.87" y="422.91" width="2.9" height="2.9"/>
<rect x="150.48" y="420.47" width="2.9" height="2.9"/>
<rect x="154.99" y="415.06" width="2.9" height="2.9"/>
<rect x="158.15" y="413.80" width="2.9" height="2.9"/>
<rect x="159.91" y="412.10" width="2.9" height="2.9"/>
<rect x="160.98" y="408.05" width="2.9" height="2.9"/>
<rect x="162.45" y="411.02" width="2.9" height="2.9"/>
<rect x="163.42" y="405.51" width="2.9" height="2.9"/>
<rect x="165.28" y="407.46" width="2.9" height="2.9"/>
<rect x="165.48" y="406.41" width="2.9" height="2.9"/>
<rect x="166.57" y="403.11" width="2.9" height="2.9"/>
<rect x="167.85" y="404.96" width="2.9" height="2.9"/>
<rect x="168.43" y="402.01" width="2.9" height="2.9"/>
<rect x="170.57" y="401.76" width="2.9" height="2.9"/>
<rect x="170.60" y="401.53" width="2.9" height="2.9"/>
<rect x="172.15" y="399.83" width="2.9" height="2.9"/>
<rect x="172.83" y="397.85" width="2.9" height="2.9"/>
<path d="M76.73 497.48l1.8 3.2h-3.6z"/>
<path d="M86.99 486.61l1.8 3.2h-3.6z"/>
<path d="M100.38 470.67l1.8 3.2h-3.6z"/>
<path d="M105.04 464.60l1.8 3.2h-3.6z"/>
<path d="M106.79 464.57l1.8 3.2h-3.6z"/>
<path d="M109.53 458.51l1.8 3.2h-3.6z"/>
<path d="M113.14 455.89l1.8 3.2h-3.6z"/>
<path d="M117.90 452.03l1.8 3.2h-3.6z"/>
<path d="M125.69 444.13l1.8 3.2h-3.6z"/>
<path d="M132.35 437.65l1.8 3.2h-3.6z"/>
<path d="M135.75 434.51l1.8 3.2h-3.6z"/>
<path d="M138.40 431.48l1.8 3.2h-3.6z"/>
<path d="M148.32 421.94l1.8 3.2h-3.6z"/>
<path d="M151.93 419.49l1.8 3.2h-3.6z"/>
<path d="M156.44 414.05l1.8 3.2h-3.6z"/>
<path d="M159.60 412.75l1.8 3.2h-3.6z"/>
<path d="M161.36 410.91l1.8 3.2h-3.6z"/>
<path d="M162.43 407.57l1.8 3.2h-3.6z"/>
<path d="M163.90 410.07l1.8 3.2h-3.6z"/>
<path d="M164.87 404.40l1.8 3.2h-3.6z"/>
<path d="M166.73 405.70l1.8 3.2h-3.6z"/>
<path d="M166.93 405.51l1.8 3.2h-3.6z"/>
<path d="M168.02 402.35l1.8 3.2h-3.6z"/>
<path d="M169.30 403.65l1.8 3.2h-3.6z"/>
<path d="M169.88 400.62l1.8 3.2h-3.6z"/>
<path d="M172.02 400.64l1.8 3.2h-3.6z"/>
<path d="M172.05 400.50l1.8 3.2h-3.6z"/>
<path d="M173.60 399.10l1.8 3.2h-3.6z"/>
<path d="M174.28 396.76l1.8 3.2h-3.6z"/>
</g>
<path d="M49.9 377.0H196.65V523.4" stroke="#747474" stroke-width="1.3" fill="none"/>
<path d="M49.90 523.4v-2.8M49.9 523.40h2.8M64.63 523.4v-1.7M49.9 508.71h1.7M73.24 523.4v-1.7M49.9 500.12h1.7M79.35 523.4v-1.7M49.9 494.02h1.7M84.09 523.4v-1.7M49.9 489.29h1.7M87.96 523.4v-1.7M49.9 485.43h1.7M91.24 523.4v-1.7M49.9 482.16h1.7M94.08 523.4v-1.7M49.9 479.33h1.7M96.58 523.4v-1.7M49.9 476.83h1.7M98.82 523.4v-2.8M49.9 474.60h2.8M113.54 523.4v-1.7M49.9 459.91h1.7M122.16 523.4v-1.7M49.9 451.32h1.7M128.27 523.4v-1.7M49.9 445.22h1.7M133.01 523.4v-1.7M49.9 440.49h1.7M136.88 523.4v-1.7M49.9 436.63h1.7M140.16 523.4v-1.7M49.9 433.36h1.7M142.99 523.4v-1.7M49.9 430.53h1.7M145.50 523.4v-1.7M49.9 428.03h1.7M147.73 523.4v-2.8M49.9 425.80h2.8M162.46 523.4v-1.7M49.9 411.11h1.7M171.07 523.4v-1.7M49.9 402.52h1.7M177.18 523.4v-1.7M49.9 396.42h1.7M181.92 523.4v-1.7M49.9 391.69h1.7M185.80 523.4v-1.7M49.9 387.83h1.7M189.07 523.4v-1.7M49.9 384.56h1.7M191.91 523.4v-1.7M49.9 381.73h1.7M194.41 523.4v-1.7M49.9 379.23h1.7" stroke="#2c2c2c" stroke-width="1.0" fill="none"/>
<path d="M49.9 376.5V523.4H197.15" stroke="#383838" stroke-width="1.25" fill="none"/>
<text x="45.00" y="535.00">10<tspan dx="-0.2" dy="-2.2" font-size="5.0" stroke-width="0.14">2</tspan></text>
<text x="27.50" y="525.60">10<tspan dx="-0.2" dy="-2.2" font-size="5.0" stroke-width="0.14">2</tspan></text>
<text x="93.92" y="535.00">10<tspan dx="-0.2" dy="-2.2" font-size="5.0" stroke-width="0.14">3</tspan></text>
<text x="27.50" y="476.80">10<tspan dx="-0.2" dy="-2.2" font-size="5.0" stroke-width="0.14">3</tspan></text>
<text x="142.83" y="535.00">10<tspan dx="-0.2" dy="-2.2" font-size="5.0" stroke-width="0.14">4</tspan></text>
<text x="27.50" y="428.00">10<tspan dx="-0.2" dy="-2.2" font-size="5.0" stroke-width="0.14">4</tspan></text>
<text x="191.75" y="535.00">10<tspan dx="-0.2" dy="-2.2" font-size="5.0" stroke-width="0.14">5</tspan></text>
<text x="27.50" y="379.20">10<tspan dx="-0.2" dy="-2.2" font-size="5.0" stroke-width="0.14">5</tspan></text>
<text x="123.28" y="544.80" text-anchor="middle" textLength="112.6" lengthAdjust="spacingAndGlyphs">Measured dynamic modulus [MPa]</text>
<text transform="translate(12.20 450.20) rotate(-90)" text-anchor="middle" textLength="111.2" lengthAdjust="spacingAndGlyphs">Predicted dynamic modulus [MPa]</text>
<text x="2.60" y="380.80">(e)</text>
<text x="58.80" y="388.70"><tspan font-style="italic">R</tspan><tspan dy="-2.4" font-size="4.9" stroke-width="0.1">2</tspan><tspan dy="2.4"> = 0.9806</tspan></text>
<text x="58.80" y="398.00"><tspan font-style="italic">S</tspan><tspan dy="1.4" font-size="5" font-style="italic" stroke-width="0.1">e</tspan><tspan dy="-1.4">/</tspan><tspan font-style="italic">S</tspan><tspan dy="1.4" font-size="5" font-style="italic" stroke-width="0.1">y</tspan><tspan dy="-1.4"> = 0.0975</tspan></text>
</g>
<g font-size="7.35">
<text x="294.5" y="437.6">Asphalt mixtures:</text>
<text x="373" y="437.6">Master curve models:</text>
<rect x="297" y="447.00" width="3.7" height="3.7" fill="#2F55A4" stroke="none"/>
<text x="305" y="451.40">AC 11-NB</text>
<rect x="297" y="460.40" width="3.7" height="3.7" fill="#D0601A" stroke="none"/>
<text x="305" y="464.80">AC 11-PMB</text>
<rect x="297" y="473.80" width="3.7" height="3.7" fill="#7f7f7f" stroke="none"/>
<text x="305" y="478.20">SMA 11-NB</text>
<rect x="297" y="487.20" width="3.7" height="3.7" fill="#C9960C" stroke="none"/>
<text x="305" y="491.60">SMA 11-PMB</text>
<circle cx="377.3" cy="449.1" r="1.75" fill="none" stroke="#222" stroke-width="0.9"/>
<text x="383.6" y="451.65">SLS model</text>
<rect x="375.6" y="460.8" width="3.4" height="3.4" fill="none" stroke="#222" stroke-width="0.9"/>
<text x="383.6" y="465.05">GLS model</text>
<path d="M377.3 473.8L379.3 477.50000000000006L375.3 477.50000000000006Z" fill="none" stroke="#222" stroke-width="0.9"/>
<text x="383.6" y="478.45">CAM model</text>
</g>
</svg>
</body></html>
